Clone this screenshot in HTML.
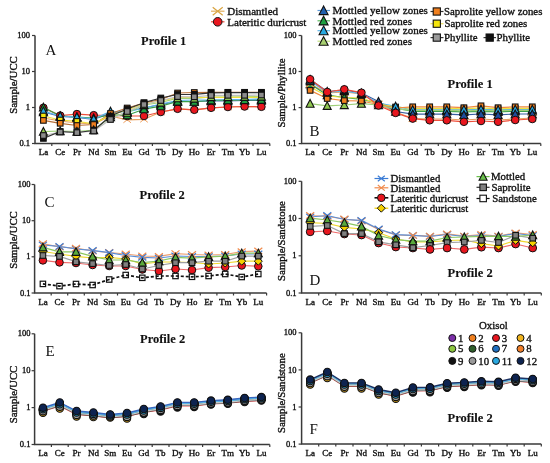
<!DOCTYPE html><html><head><meta charset="utf-8"><style>html,body{margin:0;padding:0;background:#fff;overflow:hidden}svg{display:block;will-change:transform}</style></head><body><svg width="550" height="463" viewBox="0 0 550 463" font-family="'Liberation Serif', serif" fill="#111111" stroke-width="0">
<rect width="550" height="463" fill="#ffffff"/>
<style>text{stroke:#111;stroke-width:0.35px;}</style>
<path d="M35.0,35.5 V143.5 H269.8" fill="none" stroke="#3a3a3a" stroke-width="1.5"/>
<line x1="32.0" y1="35.5" x2="35.0" y2="35.5" stroke="#3a3a3a" stroke-width="1.2"/>
<text x="30.0" y="38.1" text-anchor="end" font-size="8.5">100</text>
<line x1="32.0" y1="71.5" x2="35.0" y2="71.5" stroke="#3a3a3a" stroke-width="1.2"/>
<text x="30.0" y="74.1" text-anchor="end" font-size="8.5">10</text>
<line x1="32.0" y1="107.5" x2="35.0" y2="107.5" stroke="#3a3a3a" stroke-width="1.2"/>
<text x="30.0" y="110.1" text-anchor="end" font-size="8.5">1</text>
<line x1="32.0" y1="143.5" x2="35.0" y2="143.5" stroke="#3a3a3a" stroke-width="1.2"/>
<text x="30.0" y="146.1" text-anchor="end" font-size="8.5">0.1</text>
<line x1="51.8" y1="143.5" x2="51.8" y2="146.0" stroke="#3a3a3a" stroke-width="1.2"/>
<line x1="68.5" y1="143.5" x2="68.5" y2="146.0" stroke="#3a3a3a" stroke-width="1.2"/>
<line x1="85.3" y1="143.5" x2="85.3" y2="146.0" stroke="#3a3a3a" stroke-width="1.2"/>
<line x1="102.1" y1="143.5" x2="102.1" y2="146.0" stroke="#3a3a3a" stroke-width="1.2"/>
<line x1="118.9" y1="143.5" x2="118.9" y2="146.0" stroke="#3a3a3a" stroke-width="1.2"/>
<line x1="135.6" y1="143.5" x2="135.6" y2="146.0" stroke="#3a3a3a" stroke-width="1.2"/>
<line x1="152.4" y1="143.5" x2="152.4" y2="146.0" stroke="#3a3a3a" stroke-width="1.2"/>
<line x1="169.2" y1="143.5" x2="169.2" y2="146.0" stroke="#3a3a3a" stroke-width="1.2"/>
<line x1="185.9" y1="143.5" x2="185.9" y2="146.0" stroke="#3a3a3a" stroke-width="1.2"/>
<line x1="202.7" y1="143.5" x2="202.7" y2="146.0" stroke="#3a3a3a" stroke-width="1.2"/>
<line x1="219.5" y1="143.5" x2="219.5" y2="146.0" stroke="#3a3a3a" stroke-width="1.2"/>
<line x1="236.3" y1="143.5" x2="236.3" y2="146.0" stroke="#3a3a3a" stroke-width="1.2"/>
<line x1="253.0" y1="143.5" x2="253.0" y2="146.0" stroke="#3a3a3a" stroke-width="1.2"/>
<line x1="269.8" y1="143.5" x2="269.8" y2="146.0" stroke="#3a3a3a" stroke-width="1.2"/>
<text x="43.4" y="155.0" text-anchor="middle" font-size="9">La</text>
<text x="60.2" y="155.0" text-anchor="middle" font-size="9">Ce</text>
<text x="76.9" y="155.0" text-anchor="middle" font-size="9">Pr</text>
<text x="93.7" y="155.0" text-anchor="middle" font-size="9">Nd</text>
<text x="110.5" y="155.0" text-anchor="middle" font-size="9">Sm</text>
<text x="127.2" y="155.0" text-anchor="middle" font-size="9">Eu</text>
<text x="144.0" y="155.0" text-anchor="middle" font-size="9">Gd</text>
<text x="160.8" y="155.0" text-anchor="middle" font-size="9">Tb</text>
<text x="177.6" y="155.0" text-anchor="middle" font-size="9">Dy</text>
<text x="194.3" y="155.0" text-anchor="middle" font-size="9">Ho</text>
<text x="211.1" y="155.0" text-anchor="middle" font-size="9">Er</text>
<text x="227.9" y="155.0" text-anchor="middle" font-size="9">Tm</text>
<text x="244.6" y="155.0" text-anchor="middle" font-size="9">Yb</text>
<text x="261.4" y="155.0" text-anchor="middle" font-size="9">Lu</text>
<text transform="translate(17,85) rotate(-90)" text-anchor="middle" font-size="10.8">Sample/UCC</text>
<path d="M43.4,118.0 L60.2,121.0 L76.9,123.0 L93.7,124.0 L110.5,116.0 L127.2,119.8 L144.0,119.3 L160.8,112.0 L177.6,108.8 L194.3,109.8 L211.1,107.8 L227.9,107.0 L244.6,106.5 L261.4,106.8" fill="none" stroke="#e8a060" stroke-width="1.2" stroke-linejoin="round"/>
<path d="M43.4,107.8 L60.2,115.6 L76.9,114.1 L93.7,115.2 L110.5,115.5 L127.2,116.0 L144.0,116.0 L160.8,112.0 L177.6,108.8 L194.3,109.8 L211.1,107.8 L227.9,107.0 L244.6,106.5 L261.4,106.8" fill="none" stroke="#f0503c" stroke-width="1.2" stroke-linejoin="round"/>
<path d="M43.4,112.0 L60.2,116.5 L76.9,117.5 L93.7,119.5 L110.5,113.0 L127.2,111.0 L144.0,108.0 L160.8,104.5 L177.6,101.5 L194.3,101.5 L211.1,101.0 L227.9,101.0 L244.6,100.5 L261.4,100.5" fill="none" stroke="#4f6fb0" stroke-width="1.2" stroke-linejoin="round"/>
<path d="M43.4,107.3 L60.2,116.0 L76.9,117.0 L93.7,118.0 L110.5,115.0 L127.2,115.2 L144.0,109.2 L160.8,106.2 L177.6,101.5 L194.3,101.7 L211.1,100.3 L227.9,100.2 L244.6,100.0 L261.4,99.8" fill="none" stroke="#3aa04a" stroke-width="1.2" stroke-linejoin="round"/>
<path d="M43.4,111.2 L60.2,116.0 L76.9,117.0 L93.7,119.0 L110.5,111.4 L127.2,112.0 L144.0,108.0 L160.8,104.0 L177.6,100.5 L194.3,100.0 L211.1,100.0 L227.9,99.5 L244.6,99.5 L261.4,99.0" fill="none" stroke="#5ab4e6" stroke-width="1.2" stroke-linejoin="round"/>
<path d="M43.4,131.6 L60.2,131.0 L76.9,131.5 L93.7,130.0 L110.5,117.0 L127.2,112.7 L144.0,105.0 L160.8,102.5 L177.6,98.2 L194.3,98.5 L211.1,97.0 L227.9,97.0 L244.6,96.8 L261.4,96.5" fill="none" stroke="#9fd07a" stroke-width="1.2" stroke-linejoin="round"/>
<path d="M43.4,120.4 L60.2,123.3 L76.9,125.5 L93.7,124.5 L110.5,113.5 L127.2,108.0 L144.0,103.0 L160.8,99.5 L177.6,93.0 L194.3,92.5 L211.1,92.3 L227.9,92.3 L244.6,92.3 L261.4,92.3" fill="none" stroke="#b8703a" stroke-width="1.2" stroke-linejoin="round"/>
<path d="M43.4,116.0 L60.2,120.0 L76.9,121.4 L93.7,123.9 L110.5,115.0 L127.2,110.0 L144.0,104.0 L160.8,101.0 L177.6,97.5 L194.3,97.5 L211.1,97.3 L227.9,97.3 L244.6,97.3 L261.4,97.3" fill="none" stroke="#f0e040" stroke-width="1.2" stroke-linejoin="round"/>
<path d="M43.4,135.5 L60.2,132.0 L76.9,132.6 L93.7,131.0 L110.5,119.5 L127.2,111.5 L144.0,104.5 L160.8,100.5 L177.6,96.6 L194.3,96.8 L211.1,95.4 L227.9,95.3 L244.6,95.3 L261.4,95.0" fill="none" stroke="#c0c0c0" stroke-width="1.2" stroke-linejoin="round"/>
<path d="M43.4,138.4 L60.2,131.5 L76.9,132.5 L93.7,130.5 L110.5,116.0 L127.2,109.0 L144.0,102.7 L160.8,98.0 L177.6,94.5 L194.3,94.3 L211.1,92.8 L227.9,92.6 L244.6,92.6 L261.4,92.6" fill="none" stroke="#333333" stroke-width="1.2" stroke-linejoin="round"/>
<path d="M39.6,115.0 L47.2,121.0 M47.2,115.0 L39.6,121.0" stroke="#f0a060" stroke-width="1.0" fill="none"/>
<path d="M43.4,107.9 L47.4,115.6 L39.4,115.6 Z" fill="#1f5fad" stroke="#111" stroke-width="1.1"/>
<circle cx="43.4" cy="107.8" r="3.8" fill="#e8161e" stroke="#111" stroke-width="1"/>
<path d="M43.4,103.2 L47.4,110.9 L39.4,110.9 Z" fill="#1ea040" stroke="#111" stroke-width="1.1"/>
<path d="M43.4,107.1 L47.4,114.8 L39.4,114.8 Z" fill="#27a9e1" stroke="#111" stroke-width="1.1"/>
<rect x="40.6" y="113.2" width="5.6" height="5.6" fill="#f5e50a" stroke="#111" stroke-width="1.1"/>
<rect x="40.6" y="117.6" width="5.6" height="5.6" fill="#f07f1e" stroke="#111" stroke-width="1.1"/>
<path d="M43.4,127.5 L47.4,135.2 L39.4,135.2 Z" fill="#90c850" stroke="#111" stroke-width="1.1"/>
<rect x="40.6" y="135.6" width="5.6" height="5.6" fill="#111111" stroke="#111" stroke-width="1.1"/>
<rect x="40.6" y="132.7" width="5.6" height="5.6" fill="#8c8c8c" stroke="#111" stroke-width="1.1"/>
<path d="M56.4,118.0 L64.0,124.0 M64.0,118.0 L56.4,124.0" stroke="#f0a060" stroke-width="1.0" fill="none"/>
<path d="M60.2,112.4 L64.2,120.1 L56.2,120.1 Z" fill="#1f5fad" stroke="#111" stroke-width="1.1"/>
<circle cx="60.2" cy="115.6" r="3.8" fill="#e8161e" stroke="#111" stroke-width="1"/>
<path d="M60.2,111.9 L64.2,119.6 L56.2,119.6 Z" fill="#1ea040" stroke="#111" stroke-width="1.1"/>
<path d="M60.2,111.9 L64.2,119.6 L56.2,119.6 Z" fill="#27a9e1" stroke="#111" stroke-width="1.1"/>
<rect x="57.4" y="117.2" width="5.6" height="5.6" fill="#f5e50a" stroke="#111" stroke-width="1.1"/>
<rect x="57.4" y="120.5" width="5.6" height="5.6" fill="#f07f1e" stroke="#111" stroke-width="1.1"/>
<path d="M60.2,126.9 L64.2,134.6 L56.2,134.6 Z" fill="#90c850" stroke="#111" stroke-width="1.1"/>
<rect x="57.4" y="128.7" width="5.6" height="5.6" fill="#111111" stroke="#111" stroke-width="1.1"/>
<rect x="57.4" y="129.2" width="5.6" height="5.6" fill="#8c8c8c" stroke="#111" stroke-width="1.1"/>
<path d="M73.1,120.0 L80.7,126.0 M80.7,120.0 L73.1,126.0" stroke="#f0a060" stroke-width="1.0" fill="none"/>
<path d="M76.9,113.4 L80.9,121.1 L72.9,121.1 Z" fill="#1f5fad" stroke="#111" stroke-width="1.1"/>
<circle cx="76.9" cy="114.1" r="3.8" fill="#e8161e" stroke="#111" stroke-width="1"/>
<path d="M76.9,112.9 L80.9,120.6 L72.9,120.6 Z" fill="#1ea040" stroke="#111" stroke-width="1.1"/>
<path d="M76.9,112.9 L80.9,120.6 L72.9,120.6 Z" fill="#27a9e1" stroke="#111" stroke-width="1.1"/>
<rect x="74.1" y="118.6" width="5.6" height="5.6" fill="#f5e50a" stroke="#111" stroke-width="1.1"/>
<rect x="74.1" y="122.7" width="5.6" height="5.6" fill="#f07f1e" stroke="#111" stroke-width="1.1"/>
<path d="M76.9,127.4 L80.9,135.1 L72.9,135.1 Z" fill="#90c850" stroke="#111" stroke-width="1.1"/>
<rect x="74.1" y="129.7" width="5.6" height="5.6" fill="#111111" stroke="#111" stroke-width="1.1"/>
<rect x="74.1" y="129.8" width="5.6" height="5.6" fill="#8c8c8c" stroke="#111" stroke-width="1.1"/>
<path d="M89.9,121.0 L97.5,127.0 M97.5,121.0 L89.9,127.0" stroke="#f0a060" stroke-width="1.0" fill="none"/>
<path d="M93.7,115.4 L97.7,123.1 L89.7,123.1 Z" fill="#1f5fad" stroke="#111" stroke-width="1.1"/>
<circle cx="93.7" cy="115.2" r="3.8" fill="#e8161e" stroke="#111" stroke-width="1"/>
<path d="M93.7,113.9 L97.7,121.6 L89.7,121.6 Z" fill="#1ea040" stroke="#111" stroke-width="1.1"/>
<path d="M93.7,114.9 L97.7,122.6 L89.7,122.6 Z" fill="#27a9e1" stroke="#111" stroke-width="1.1"/>
<rect x="90.9" y="121.1" width="5.6" height="5.6" fill="#f5e50a" stroke="#111" stroke-width="1.1"/>
<rect x="90.9" y="121.7" width="5.6" height="5.6" fill="#f07f1e" stroke="#111" stroke-width="1.1"/>
<path d="M93.7,125.9 L97.7,133.6 L89.7,133.6 Z" fill="#90c850" stroke="#111" stroke-width="1.1"/>
<rect x="90.9" y="127.7" width="5.6" height="5.6" fill="#111111" stroke="#111" stroke-width="1.1"/>
<rect x="90.9" y="128.2" width="5.6" height="5.6" fill="#8c8c8c" stroke="#111" stroke-width="1.1"/>
<path d="M106.7,113.0 L114.3,119.0 M114.3,113.0 L106.7,119.0" stroke="#f0a060" stroke-width="1.0" fill="none"/>
<path d="M110.5,108.9 L114.5,116.6 L106.5,116.6 Z" fill="#1f5fad" stroke="#111" stroke-width="1.1"/>
<circle cx="110.5" cy="115.5" r="3.8" fill="#e8161e" stroke="#111" stroke-width="1"/>
<path d="M110.5,110.9 L114.5,118.6 L106.5,118.6 Z" fill="#1ea040" stroke="#111" stroke-width="1.1"/>
<path d="M110.5,107.3 L114.5,115.0 L106.5,115.0 Z" fill="#27a9e1" stroke="#111" stroke-width="1.1"/>
<rect x="107.7" y="112.2" width="5.6" height="5.6" fill="#f5e50a" stroke="#111" stroke-width="1.1"/>
<rect x="107.7" y="110.7" width="5.6" height="5.6" fill="#f07f1e" stroke="#111" stroke-width="1.1"/>
<path d="M110.5,112.9 L114.5,120.6 L106.5,120.6 Z" fill="#90c850" stroke="#111" stroke-width="1.1"/>
<rect x="107.7" y="113.2" width="5.6" height="5.6" fill="#111111" stroke="#111" stroke-width="1.1"/>
<rect x="107.7" y="116.7" width="5.6" height="5.6" fill="#8c8c8c" stroke="#111" stroke-width="1.1"/>
<path d="M123.4,116.8 L131.0,122.8 M131.0,116.8 L123.4,122.8" stroke="#f0a060" stroke-width="1.0" fill="none"/>
<path d="M127.2,106.9 L131.2,114.6 L123.2,114.6 Z" fill="#1f5fad" stroke="#111" stroke-width="1.1"/>
<path d="M127.2,107.9 L131.2,115.6 L123.2,115.6 Z" fill="#27a9e1" stroke="#111" stroke-width="1.1"/>
<rect x="124.4" y="107.2" width="5.6" height="5.6" fill="#f5e50a" stroke="#111" stroke-width="1.1"/>
<rect x="124.4" y="105.2" width="5.6" height="5.6" fill="#f07f1e" stroke="#111" stroke-width="1.1"/>
<circle cx="127.2" cy="116.0" r="3.8" fill="#e8161e" stroke="#111" stroke-width="1"/>
<path d="M127.2,111.1 L131.2,118.8 L123.2,118.8 Z" fill="#1ea040" stroke="#111" stroke-width="1.1"/>
<path d="M127.2,108.6 L131.2,116.3 L123.2,116.3 Z" fill="#90c850" stroke="#111" stroke-width="1.1"/>
<rect x="124.4" y="106.2" width="5.6" height="5.6" fill="#111111" stroke="#111" stroke-width="1.1"/>
<rect x="124.4" y="108.7" width="5.6" height="5.6" fill="#8c8c8c" stroke="#111" stroke-width="1.1"/>
<path d="M140.2,116.3 L147.8,122.3 M147.8,116.3 L140.2,122.3" stroke="#f0a060" stroke-width="1.0" fill="none"/>
<path d="M144.0,103.9 L148.0,111.6 L140.0,111.6 Z" fill="#1f5fad" stroke="#111" stroke-width="1.1"/>
<path d="M144.0,103.9 L148.0,111.6 L140.0,111.6 Z" fill="#27a9e1" stroke="#111" stroke-width="1.1"/>
<rect x="141.2" y="101.2" width="5.6" height="5.6" fill="#f5e50a" stroke="#111" stroke-width="1.1"/>
<rect x="141.2" y="100.2" width="5.6" height="5.6" fill="#f07f1e" stroke="#111" stroke-width="1.1"/>
<circle cx="144.0" cy="116.0" r="3.8" fill="#e8161e" stroke="#111" stroke-width="1"/>
<path d="M144.0,105.1 L148.0,112.8 L140.0,112.8 Z" fill="#1ea040" stroke="#111" stroke-width="1.1"/>
<path d="M144.0,100.9 L148.0,108.6 L140.0,108.6 Z" fill="#90c850" stroke="#111" stroke-width="1.1"/>
<rect x="141.2" y="99.9" width="5.6" height="5.6" fill="#111111" stroke="#111" stroke-width="1.1"/>
<rect x="141.2" y="101.7" width="5.6" height="5.6" fill="#8c8c8c" stroke="#111" stroke-width="1.1"/>
<path d="M157.0,109.0 L164.6,115.0 M164.6,109.0 L157.0,115.0" stroke="#f0a060" stroke-width="1.0" fill="none"/>
<path d="M160.8,100.4 L164.8,108.1 L156.8,108.1 Z" fill="#1f5fad" stroke="#111" stroke-width="1.1"/>
<path d="M160.8,99.9 L164.8,107.6 L156.8,107.6 Z" fill="#27a9e1" stroke="#111" stroke-width="1.1"/>
<rect x="158.0" y="98.2" width="5.6" height="5.6" fill="#f5e50a" stroke="#111" stroke-width="1.1"/>
<rect x="158.0" y="96.7" width="5.6" height="5.6" fill="#f07f1e" stroke="#111" stroke-width="1.1"/>
<circle cx="160.8" cy="112.0" r="3.8" fill="#e8161e" stroke="#111" stroke-width="1"/>
<path d="M160.8,102.1 L164.8,109.8 L156.8,109.8 Z" fill="#1ea040" stroke="#111" stroke-width="1.1"/>
<path d="M160.8,98.4 L164.8,106.1 L156.8,106.1 Z" fill="#90c850" stroke="#111" stroke-width="1.1"/>
<rect x="158.0" y="95.2" width="5.6" height="5.6" fill="#111111" stroke="#111" stroke-width="1.1"/>
<rect x="158.0" y="97.7" width="5.6" height="5.6" fill="#8c8c8c" stroke="#111" stroke-width="1.1"/>
<path d="M173.8,105.8 L181.4,111.8 M181.4,105.8 L173.8,111.8" stroke="#f0a060" stroke-width="1.0" fill="none"/>
<path d="M177.6,97.4 L181.6,105.1 L173.6,105.1 Z" fill="#1f5fad" stroke="#111" stroke-width="1.1"/>
<path d="M177.6,96.4 L181.6,104.1 L173.6,104.1 Z" fill="#27a9e1" stroke="#111" stroke-width="1.1"/>
<rect x="174.8" y="94.7" width="5.6" height="5.6" fill="#f5e50a" stroke="#111" stroke-width="1.1"/>
<rect x="174.8" y="90.2" width="5.6" height="5.6" fill="#f07f1e" stroke="#111" stroke-width="1.1"/>
<circle cx="177.6" cy="108.8" r="3.8" fill="#e8161e" stroke="#111" stroke-width="1"/>
<path d="M177.6,97.4 L181.6,105.1 L173.6,105.1 Z" fill="#1ea040" stroke="#111" stroke-width="1.1"/>
<path d="M177.6,94.1 L181.6,101.8 L173.6,101.8 Z" fill="#90c850" stroke="#111" stroke-width="1.1"/>
<rect x="174.8" y="91.7" width="5.6" height="5.6" fill="#111111" stroke="#111" stroke-width="1.1"/>
<rect x="174.8" y="93.8" width="5.6" height="5.6" fill="#8c8c8c" stroke="#111" stroke-width="1.1"/>
<path d="M190.5,106.8 L198.1,112.8 M198.1,106.8 L190.5,112.8" stroke="#f0a060" stroke-width="1.0" fill="none"/>
<path d="M194.3,97.4 L198.3,105.1 L190.3,105.1 Z" fill="#1f5fad" stroke="#111" stroke-width="1.1"/>
<path d="M194.3,95.9 L198.3,103.6 L190.3,103.6 Z" fill="#27a9e1" stroke="#111" stroke-width="1.1"/>
<rect x="191.5" y="94.7" width="5.6" height="5.6" fill="#f5e50a" stroke="#111" stroke-width="1.1"/>
<rect x="191.5" y="89.7" width="5.6" height="5.6" fill="#f07f1e" stroke="#111" stroke-width="1.1"/>
<circle cx="194.3" cy="109.8" r="3.8" fill="#e8161e" stroke="#111" stroke-width="1"/>
<path d="M194.3,97.6 L198.3,105.3 L190.3,105.3 Z" fill="#1ea040" stroke="#111" stroke-width="1.1"/>
<path d="M194.3,94.4 L198.3,102.1 L190.3,102.1 Z" fill="#90c850" stroke="#111" stroke-width="1.1"/>
<rect x="191.5" y="91.5" width="5.6" height="5.6" fill="#111111" stroke="#111" stroke-width="1.1"/>
<rect x="191.5" y="94.0" width="5.6" height="5.6" fill="#8c8c8c" stroke="#111" stroke-width="1.1"/>
<path d="M207.3,104.8 L214.9,110.8 M214.9,104.8 L207.3,110.8" stroke="#f0a060" stroke-width="1.0" fill="none"/>
<path d="M211.1,96.9 L215.1,104.6 L207.1,104.6 Z" fill="#1f5fad" stroke="#111" stroke-width="1.1"/>
<path d="M211.1,95.9 L215.1,103.6 L207.1,103.6 Z" fill="#27a9e1" stroke="#111" stroke-width="1.1"/>
<rect x="208.3" y="94.5" width="5.6" height="5.6" fill="#f5e50a" stroke="#111" stroke-width="1.1"/>
<rect x="208.3" y="89.5" width="5.6" height="5.6" fill="#f07f1e" stroke="#111" stroke-width="1.1"/>
<circle cx="211.1" cy="107.8" r="3.8" fill="#e8161e" stroke="#111" stroke-width="1"/>
<path d="M211.1,96.2 L215.1,103.9 L207.1,103.9 Z" fill="#1ea040" stroke="#111" stroke-width="1.1"/>
<path d="M211.1,92.9 L215.1,100.6 L207.1,100.6 Z" fill="#90c850" stroke="#111" stroke-width="1.1"/>
<rect x="208.3" y="90.0" width="5.6" height="5.6" fill="#111111" stroke="#111" stroke-width="1.1"/>
<rect x="208.3" y="92.6" width="5.6" height="5.6" fill="#8c8c8c" stroke="#111" stroke-width="1.1"/>
<path d="M224.1,104.0 L231.7,110.0 M231.7,104.0 L224.1,110.0" stroke="#f0a060" stroke-width="1.0" fill="none"/>
<path d="M227.9,96.9 L231.9,104.6 L223.9,104.6 Z" fill="#1f5fad" stroke="#111" stroke-width="1.1"/>
<path d="M227.9,95.4 L231.9,103.1 L223.9,103.1 Z" fill="#27a9e1" stroke="#111" stroke-width="1.1"/>
<rect x="225.1" y="94.5" width="5.6" height="5.6" fill="#f5e50a" stroke="#111" stroke-width="1.1"/>
<rect x="225.1" y="89.5" width="5.6" height="5.6" fill="#f07f1e" stroke="#111" stroke-width="1.1"/>
<circle cx="227.9" cy="107.0" r="3.8" fill="#e8161e" stroke="#111" stroke-width="1"/>
<path d="M227.9,96.1 L231.9,103.8 L223.9,103.8 Z" fill="#1ea040" stroke="#111" stroke-width="1.1"/>
<path d="M227.9,92.9 L231.9,100.6 L223.9,100.6 Z" fill="#90c850" stroke="#111" stroke-width="1.1"/>
<rect x="225.1" y="89.8" width="5.6" height="5.6" fill="#111111" stroke="#111" stroke-width="1.1"/>
<rect x="225.1" y="92.5" width="5.6" height="5.6" fill="#8c8c8c" stroke="#111" stroke-width="1.1"/>
<path d="M240.8,103.5 L248.4,109.5 M248.4,103.5 L240.8,109.5" stroke="#f0a060" stroke-width="1.0" fill="none"/>
<path d="M244.6,96.4 L248.6,104.1 L240.6,104.1 Z" fill="#1f5fad" stroke="#111" stroke-width="1.1"/>
<path d="M244.6,95.4 L248.6,103.1 L240.6,103.1 Z" fill="#27a9e1" stroke="#111" stroke-width="1.1"/>
<rect x="241.8" y="94.5" width="5.6" height="5.6" fill="#f5e50a" stroke="#111" stroke-width="1.1"/>
<rect x="241.8" y="89.5" width="5.6" height="5.6" fill="#f07f1e" stroke="#111" stroke-width="1.1"/>
<circle cx="244.6" cy="106.5" r="3.8" fill="#e8161e" stroke="#111" stroke-width="1"/>
<path d="M244.6,95.9 L248.6,103.6 L240.6,103.6 Z" fill="#1ea040" stroke="#111" stroke-width="1.1"/>
<path d="M244.6,92.7 L248.6,100.4 L240.6,100.4 Z" fill="#90c850" stroke="#111" stroke-width="1.1"/>
<rect x="241.8" y="89.8" width="5.6" height="5.6" fill="#111111" stroke="#111" stroke-width="1.1"/>
<rect x="241.8" y="92.5" width="5.6" height="5.6" fill="#8c8c8c" stroke="#111" stroke-width="1.1"/>
<path d="M257.6,103.8 L265.2,109.8 M265.2,103.8 L257.6,109.8" stroke="#f0a060" stroke-width="1.0" fill="none"/>
<path d="M261.4,96.4 L265.4,104.1 L257.4,104.1 Z" fill="#1f5fad" stroke="#111" stroke-width="1.1"/>
<path d="M261.4,94.9 L265.4,102.6 L257.4,102.6 Z" fill="#27a9e1" stroke="#111" stroke-width="1.1"/>
<rect x="258.6" y="94.5" width="5.6" height="5.6" fill="#f5e50a" stroke="#111" stroke-width="1.1"/>
<rect x="258.6" y="89.5" width="5.6" height="5.6" fill="#f07f1e" stroke="#111" stroke-width="1.1"/>
<circle cx="261.4" cy="106.8" r="3.8" fill="#e8161e" stroke="#111" stroke-width="1"/>
<path d="M261.4,95.7 L265.4,103.4 L257.4,103.4 Z" fill="#1ea040" stroke="#111" stroke-width="1.1"/>
<path d="M261.4,92.4 L265.4,100.1 L257.4,100.1 Z" fill="#90c850" stroke="#111" stroke-width="1.1"/>
<rect x="258.6" y="89.8" width="5.6" height="5.6" fill="#111111" stroke="#111" stroke-width="1.1"/>
<rect x="258.6" y="92.2" width="5.6" height="5.6" fill="#8c8c8c" stroke="#111" stroke-width="1.1"/>
<text x="45.5" y="55" font-size="15" style="stroke:none">A</text>
<text x="141" y="45.3" font-size="12.5" font-weight="bold" style="stroke-width:0.1px">Profile 1</text>
<path d="M301.6,35.5 V143.6 H540.8" fill="none" stroke="#3a3a3a" stroke-width="1.5"/>
<line x1="298.6" y1="35.5" x2="301.6" y2="35.5" stroke="#3a3a3a" stroke-width="1.2"/>
<text x="296.6" y="38.1" text-anchor="end" font-size="8.5">100</text>
<line x1="298.6" y1="71.5" x2="301.6" y2="71.5" stroke="#3a3a3a" stroke-width="1.2"/>
<text x="296.6" y="74.1" text-anchor="end" font-size="8.5">10</text>
<line x1="298.6" y1="107.6" x2="301.6" y2="107.6" stroke="#3a3a3a" stroke-width="1.2"/>
<text x="296.6" y="110.2" text-anchor="end" font-size="8.5">1</text>
<line x1="298.6" y1="143.6" x2="301.6" y2="143.6" stroke="#3a3a3a" stroke-width="1.2"/>
<text x="296.6" y="146.2" text-anchor="end" font-size="8.5">0.1</text>
<line x1="318.7" y1="143.6" x2="318.7" y2="146.1" stroke="#3a3a3a" stroke-width="1.2"/>
<line x1="335.8" y1="143.6" x2="335.8" y2="146.1" stroke="#3a3a3a" stroke-width="1.2"/>
<line x1="352.9" y1="143.6" x2="352.9" y2="146.1" stroke="#3a3a3a" stroke-width="1.2"/>
<line x1="369.9" y1="143.6" x2="369.9" y2="146.1" stroke="#3a3a3a" stroke-width="1.2"/>
<line x1="387.0" y1="143.6" x2="387.0" y2="146.1" stroke="#3a3a3a" stroke-width="1.2"/>
<line x1="404.1" y1="143.6" x2="404.1" y2="146.1" stroke="#3a3a3a" stroke-width="1.2"/>
<line x1="421.2" y1="143.6" x2="421.2" y2="146.1" stroke="#3a3a3a" stroke-width="1.2"/>
<line x1="438.3" y1="143.6" x2="438.3" y2="146.1" stroke="#3a3a3a" stroke-width="1.2"/>
<line x1="455.4" y1="143.6" x2="455.4" y2="146.1" stroke="#3a3a3a" stroke-width="1.2"/>
<line x1="472.5" y1="143.6" x2="472.5" y2="146.1" stroke="#3a3a3a" stroke-width="1.2"/>
<line x1="489.5" y1="143.6" x2="489.5" y2="146.1" stroke="#3a3a3a" stroke-width="1.2"/>
<line x1="506.6" y1="143.6" x2="506.6" y2="146.1" stroke="#3a3a3a" stroke-width="1.2"/>
<line x1="523.7" y1="143.6" x2="523.7" y2="146.1" stroke="#3a3a3a" stroke-width="1.2"/>
<line x1="540.8" y1="143.6" x2="540.8" y2="146.1" stroke="#3a3a3a" stroke-width="1.2"/>
<text x="310.1" y="155.1" text-anchor="middle" font-size="9">La</text>
<text x="327.2" y="155.1" text-anchor="middle" font-size="9">Ce</text>
<text x="344.3" y="155.1" text-anchor="middle" font-size="9">Pr</text>
<text x="361.4" y="155.1" text-anchor="middle" font-size="9">Nd</text>
<text x="378.5" y="155.1" text-anchor="middle" font-size="9">Sm</text>
<text x="395.6" y="155.1" text-anchor="middle" font-size="9">Eu</text>
<text x="412.7" y="155.1" text-anchor="middle" font-size="9">Gd</text>
<text x="429.7" y="155.1" text-anchor="middle" font-size="9">Tb</text>
<text x="446.8" y="155.1" text-anchor="middle" font-size="9">Dy</text>
<text x="463.9" y="155.1" text-anchor="middle" font-size="9">Ho</text>
<text x="481.0" y="155.1" text-anchor="middle" font-size="9">Er</text>
<text x="498.1" y="155.1" text-anchor="middle" font-size="9">Tm</text>
<text x="515.2" y="155.1" text-anchor="middle" font-size="9">Yb</text>
<text x="532.3" y="155.1" text-anchor="middle" font-size="9">Lu</text>
<text transform="translate(284.7,93) rotate(-90)" text-anchor="middle" font-size="10.8">Sample/Phyllite</text>
<path d="M310.1,84.0 L327.2,93.0 L344.3,92.0 L361.4,94.0 L378.5,104.0 L395.6,112.0 L412.7,118.6 L429.7,119.0 L446.8,119.0 L463.9,120.0 L481.0,119.0 L498.1,120.0 L515.2,119.0 L532.3,118.0" fill="none" stroke="#e8a060" stroke-width="1.2" stroke-linejoin="round"/>
<path d="M310.1,79.5 L327.2,91.5 L344.3,90.0 L361.4,93.0 L378.5,101.5 L395.6,111.5 L412.7,114.2 L429.7,114.2 L446.8,114.2 L463.9,114.9 L481.0,114.0 L498.1,114.9 L515.2,114.0 L532.3,114.0" fill="none" stroke="#3a5fa0" stroke-width="1.2" stroke-linejoin="round"/>
<path d="M310.1,84.0 L327.2,95.0 L344.3,97.5 L361.4,99.3 L378.5,103.0 L395.6,108.0 L412.7,111.3 L429.7,111.3 L446.8,111.3 L463.9,111.8 L481.0,111.3 L498.1,111.8 L515.2,111.3 L532.3,111.3" fill="none" stroke="#3aa04a" stroke-width="1.2" stroke-linejoin="round"/>
<path d="M310.1,81.0 L327.2,92.5 L344.3,91.0 L361.4,94.0 L378.5,103.0 L395.6,106.4 L412.7,109.8 L429.7,109.8 L446.8,109.8 L463.9,109.5 L481.0,109.3 L498.1,109.8 L515.2,109.3 L532.3,109.3" fill="none" stroke="#5ab4e6" stroke-width="1.2" stroke-linejoin="round"/>
<path d="M310.1,87.0 L327.2,96.0 L344.3,97.5 L361.4,98.0 L378.5,104.0 L395.6,107.0 L412.7,108.3 L429.7,108.3 L446.8,108.3 L463.9,108.8 L481.0,107.8 L498.1,108.8 L515.2,108.3 L532.3,108.3" fill="none" stroke="#f0e040" stroke-width="1.2" stroke-linejoin="round"/>
<path d="M310.1,90.4 L327.2,98.5 L344.3,100.6 L361.4,101.0 L378.5,104.5 L395.6,108.0 L412.7,106.8 L429.7,106.8 L446.8,106.8 L463.9,107.7 L481.0,105.8 L498.1,107.7 L515.2,106.8 L532.3,106.8" fill="none" stroke="#f08a40" stroke-width="1.2" stroke-linejoin="round"/>
<path d="M310.1,103.6 L327.2,105.8 L344.3,105.0 L361.4,103.6 L378.5,105.0 L395.6,109.0 L412.7,110.3 L429.7,110.3 L446.8,110.3 L463.9,110.8 L481.0,110.3 L498.1,110.8 L515.2,110.3 L532.3,110.3" fill="none" stroke="#9fd07a" stroke-width="1.2" stroke-linejoin="round"/>
<path d="M310.1,79.2 L327.2,92.0 L344.3,89.3 L361.4,92.7 L378.5,105.5 L395.6,112.9 L412.7,118.6 L429.7,120.3 L446.8,120.3 L463.9,121.8 L481.0,121.0 L498.1,121.8 L515.2,120.0 L532.3,119.0" fill="none" stroke="#f0503c" stroke-width="1.2" stroke-linejoin="round"/>
<rect x="307.3" y="84.2" width="5.6" height="5.6" fill="#f5e50a" stroke="#111" stroke-width="1.1"/>
<rect x="324.4" y="93.2" width="5.6" height="5.6" fill="#f5e50a" stroke="#111" stroke-width="1.1"/>
<rect x="341.5" y="94.7" width="5.6" height="5.6" fill="#f5e50a" stroke="#111" stroke-width="1.1"/>
<rect x="358.6" y="95.2" width="5.6" height="5.6" fill="#f5e50a" stroke="#111" stroke-width="1.1"/>
<rect x="375.7" y="101.2" width="5.6" height="5.6" fill="#f5e50a" stroke="#111" stroke-width="1.1"/>
<rect x="392.8" y="104.2" width="5.6" height="5.6" fill="#f5e50a" stroke="#111" stroke-width="1.1"/>
<rect x="409.9" y="105.5" width="5.6" height="5.6" fill="#f5e50a" stroke="#111" stroke-width="1.1"/>
<rect x="426.9" y="105.5" width="5.6" height="5.6" fill="#f5e50a" stroke="#111" stroke-width="1.1"/>
<rect x="444.0" y="105.5" width="5.6" height="5.6" fill="#f5e50a" stroke="#111" stroke-width="1.1"/>
<rect x="461.1" y="106.0" width="5.6" height="5.6" fill="#f5e50a" stroke="#111" stroke-width="1.1"/>
<rect x="478.2" y="105.0" width="5.6" height="5.6" fill="#f5e50a" stroke="#111" stroke-width="1.1"/>
<rect x="495.3" y="106.0" width="5.6" height="5.6" fill="#f5e50a" stroke="#111" stroke-width="1.1"/>
<rect x="512.4" y="105.5" width="5.6" height="5.6" fill="#f5e50a" stroke="#111" stroke-width="1.1"/>
<rect x="529.5" y="105.5" width="5.6" height="5.6" fill="#f5e50a" stroke="#111" stroke-width="1.1"/>
<path d="M310.1,99.5 L314.1,107.2 L306.1,107.2 Z" fill="#90c850" stroke="#111" stroke-width="1.1"/>
<path d="M327.2,101.7 L331.2,109.4 L323.2,109.4 Z" fill="#90c850" stroke="#111" stroke-width="1.1"/>
<path d="M344.3,100.9 L348.3,108.6 L340.3,108.6 Z" fill="#90c850" stroke="#111" stroke-width="1.1"/>
<path d="M361.4,99.5 L365.4,107.2 L357.4,107.2 Z" fill="#90c850" stroke="#111" stroke-width="1.1"/>
<path d="M378.5,100.9 L382.5,108.6 L374.5,108.6 Z" fill="#90c850" stroke="#111" stroke-width="1.1"/>
<path d="M395.6,104.9 L399.6,112.6 L391.6,112.6 Z" fill="#90c850" stroke="#111" stroke-width="1.1"/>
<path d="M412.7,106.2 L416.7,113.9 L408.7,113.9 Z" fill="#90c850" stroke="#111" stroke-width="1.1"/>
<path d="M429.7,106.2 L433.7,113.9 L425.7,113.9 Z" fill="#90c850" stroke="#111" stroke-width="1.1"/>
<path d="M446.8,106.2 L450.8,113.9 L442.8,113.9 Z" fill="#90c850" stroke="#111" stroke-width="1.1"/>
<path d="M463.9,106.7 L467.9,114.4 L459.9,114.4 Z" fill="#90c850" stroke="#111" stroke-width="1.1"/>
<path d="M481.0,106.2 L485.0,113.9 L477.0,113.9 Z" fill="#90c850" stroke="#111" stroke-width="1.1"/>
<path d="M498.1,106.7 L502.1,114.4 L494.1,114.4 Z" fill="#90c850" stroke="#111" stroke-width="1.1"/>
<path d="M515.2,106.2 L519.2,113.9 L511.2,113.9 Z" fill="#90c850" stroke="#111" stroke-width="1.1"/>
<path d="M532.3,106.2 L536.3,113.9 L528.3,113.9 Z" fill="#90c850" stroke="#111" stroke-width="1.1"/>
<path d="M310.1,79.9 L314.1,87.6 L306.1,87.6 Z" fill="#1ea040" stroke="#111" stroke-width="1.1"/>
<path d="M327.2,90.9 L331.2,98.6 L323.2,98.6 Z" fill="#1ea040" stroke="#111" stroke-width="1.1"/>
<path d="M344.3,93.4 L348.3,101.1 L340.3,101.1 Z" fill="#1ea040" stroke="#111" stroke-width="1.1"/>
<path d="M361.4,95.2 L365.4,102.9 L357.4,102.9 Z" fill="#1ea040" stroke="#111" stroke-width="1.1"/>
<path d="M378.5,98.9 L382.5,106.6 L374.5,106.6 Z" fill="#1ea040" stroke="#111" stroke-width="1.1"/>
<path d="M395.6,103.9 L399.6,111.6 L391.6,111.6 Z" fill="#1ea040" stroke="#111" stroke-width="1.1"/>
<path d="M412.7,107.2 L416.7,114.9 L408.7,114.9 Z" fill="#1ea040" stroke="#111" stroke-width="1.1"/>
<path d="M429.7,107.2 L433.7,114.9 L425.7,114.9 Z" fill="#1ea040" stroke="#111" stroke-width="1.1"/>
<path d="M446.8,107.2 L450.8,114.9 L442.8,114.9 Z" fill="#1ea040" stroke="#111" stroke-width="1.1"/>
<path d="M463.9,107.7 L467.9,115.4 L459.9,115.4 Z" fill="#1ea040" stroke="#111" stroke-width="1.1"/>
<path d="M481.0,107.2 L485.0,114.9 L477.0,114.9 Z" fill="#1ea040" stroke="#111" stroke-width="1.1"/>
<path d="M498.1,107.7 L502.1,115.4 L494.1,115.4 Z" fill="#1ea040" stroke="#111" stroke-width="1.1"/>
<path d="M515.2,107.2 L519.2,114.9 L511.2,114.9 Z" fill="#1ea040" stroke="#111" stroke-width="1.1"/>
<path d="M532.3,107.2 L536.3,114.9 L528.3,114.9 Z" fill="#1ea040" stroke="#111" stroke-width="1.1"/>
<path d="M306.1,80.8 L314.1,87.2 M314.1,80.8 L306.1,87.2" stroke="#f0a050" stroke-width="1.2" fill="none"/>
<path d="M323.2,89.8 L331.2,96.2 M331.2,89.8 L323.2,96.2" stroke="#f0a050" stroke-width="1.2" fill="none"/>
<path d="M340.3,88.8 L348.3,95.2 M348.3,88.8 L340.3,95.2" stroke="#f0a050" stroke-width="1.2" fill="none"/>
<path d="M357.4,90.8 L365.4,97.2 M365.4,90.8 L357.4,97.2" stroke="#f0a050" stroke-width="1.2" fill="none"/>
<path d="M374.5,100.8 L382.5,107.2 M382.5,100.8 L374.5,107.2" stroke="#f0a050" stroke-width="1.2" fill="none"/>
<path d="M391.6,108.8 L399.6,115.2 M399.6,108.8 L391.6,115.2" stroke="#f0a050" stroke-width="1.2" fill="none"/>
<path d="M408.7,115.4 L416.7,121.8 M416.7,115.4 L408.7,121.8" stroke="#f0a050" stroke-width="1.2" fill="none"/>
<path d="M425.7,115.8 L433.7,122.2 M433.7,115.8 L425.7,122.2" stroke="#f0a050" stroke-width="1.2" fill="none"/>
<path d="M442.8,115.8 L450.8,122.2 M450.8,115.8 L442.8,122.2" stroke="#f0a050" stroke-width="1.2" fill="none"/>
<path d="M459.9,116.8 L467.9,123.2 M467.9,116.8 L459.9,123.2" stroke="#f0a050" stroke-width="1.2" fill="none"/>
<path d="M477.0,115.8 L485.0,122.2 M485.0,115.8 L477.0,122.2" stroke="#f0a050" stroke-width="1.2" fill="none"/>
<path d="M494.1,116.8 L502.1,123.2 M502.1,116.8 L494.1,123.2" stroke="#f0a050" stroke-width="1.2" fill="none"/>
<path d="M511.2,115.8 L519.2,122.2 M519.2,115.8 L511.2,122.2" stroke="#f0a050" stroke-width="1.2" fill="none"/>
<path d="M528.3,114.8 L536.3,121.2 M536.3,114.8 L528.3,121.2" stroke="#f0a050" stroke-width="1.2" fill="none"/>
<rect x="307.3" y="87.6" width="5.6" height="5.6" fill="#f07f1e" stroke="#111" stroke-width="1.1"/>
<rect x="324.4" y="95.7" width="5.6" height="5.6" fill="#f07f1e" stroke="#111" stroke-width="1.1"/>
<rect x="341.5" y="97.8" width="5.6" height="5.6" fill="#f07f1e" stroke="#111" stroke-width="1.1"/>
<rect x="358.6" y="98.2" width="5.6" height="5.6" fill="#f07f1e" stroke="#111" stroke-width="1.1"/>
<rect x="375.7" y="101.7" width="5.6" height="5.6" fill="#f07f1e" stroke="#111" stroke-width="1.1"/>
<rect x="392.8" y="105.2" width="5.6" height="5.6" fill="#f07f1e" stroke="#111" stroke-width="1.1"/>
<rect x="409.9" y="104.0" width="5.6" height="5.6" fill="#f07f1e" stroke="#111" stroke-width="1.1"/>
<rect x="426.9" y="104.0" width="5.6" height="5.6" fill="#f07f1e" stroke="#111" stroke-width="1.1"/>
<rect x="444.0" y="104.0" width="5.6" height="5.6" fill="#f07f1e" stroke="#111" stroke-width="1.1"/>
<rect x="461.1" y="104.9" width="5.6" height="5.6" fill="#f07f1e" stroke="#111" stroke-width="1.1"/>
<rect x="478.2" y="103.0" width="5.6" height="5.6" fill="#f07f1e" stroke="#111" stroke-width="1.1"/>
<rect x="495.3" y="104.9" width="5.6" height="5.6" fill="#f07f1e" stroke="#111" stroke-width="1.1"/>
<rect x="512.4" y="104.0" width="5.6" height="5.6" fill="#f07f1e" stroke="#111" stroke-width="1.1"/>
<rect x="529.5" y="104.0" width="5.6" height="5.6" fill="#f07f1e" stroke="#111" stroke-width="1.1"/>
<path d="M310.1,76.9 L314.1,84.6 L306.1,84.6 Z" fill="#27a9e1" stroke="#111" stroke-width="1.1"/>
<path d="M327.2,88.4 L331.2,96.1 L323.2,96.1 Z" fill="#27a9e1" stroke="#111" stroke-width="1.1"/>
<path d="M344.3,86.9 L348.3,94.6 L340.3,94.6 Z" fill="#27a9e1" stroke="#111" stroke-width="1.1"/>
<path d="M361.4,89.9 L365.4,97.6 L357.4,97.6 Z" fill="#27a9e1" stroke="#111" stroke-width="1.1"/>
<path d="M378.5,98.9 L382.5,106.6 L374.5,106.6 Z" fill="#27a9e1" stroke="#111" stroke-width="1.1"/>
<path d="M395.6,102.3 L399.6,110.0 L391.6,110.0 Z" fill="#27a9e1" stroke="#111" stroke-width="1.1"/>
<path d="M412.7,105.7 L416.7,113.4 L408.7,113.4 Z" fill="#27a9e1" stroke="#111" stroke-width="1.1"/>
<path d="M429.7,105.7 L433.7,113.4 L425.7,113.4 Z" fill="#27a9e1" stroke="#111" stroke-width="1.1"/>
<path d="M446.8,105.7 L450.8,113.4 L442.8,113.4 Z" fill="#27a9e1" stroke="#111" stroke-width="1.1"/>
<path d="M463.9,105.4 L467.9,113.1 L459.9,113.1 Z" fill="#27a9e1" stroke="#111" stroke-width="1.1"/>
<path d="M481.0,105.2 L485.0,112.9 L477.0,112.9 Z" fill="#27a9e1" stroke="#111" stroke-width="1.1"/>
<path d="M498.1,105.7 L502.1,113.4 L494.1,113.4 Z" fill="#27a9e1" stroke="#111" stroke-width="1.1"/>
<path d="M515.2,105.2 L519.2,112.9 L511.2,112.9 Z" fill="#27a9e1" stroke="#111" stroke-width="1.1"/>
<path d="M532.3,105.2 L536.3,112.9 L528.3,112.9 Z" fill="#27a9e1" stroke="#111" stroke-width="1.1"/>
<path d="M310.1,75.4 L314.1,83.1 L306.1,83.1 Z" fill="#1f4f9d" stroke="#111" stroke-width="1.1"/>
<path d="M327.2,87.4 L331.2,95.1 L323.2,95.1 Z" fill="#1f4f9d" stroke="#111" stroke-width="1.1"/>
<path d="M344.3,85.9 L348.3,93.6 L340.3,93.6 Z" fill="#1f4f9d" stroke="#111" stroke-width="1.1"/>
<path d="M361.4,88.9 L365.4,96.6 L357.4,96.6 Z" fill="#1f4f9d" stroke="#111" stroke-width="1.1"/>
<path d="M378.5,97.4 L382.5,105.1 L374.5,105.1 Z" fill="#1f4f9d" stroke="#111" stroke-width="1.1"/>
<path d="M395.6,107.4 L399.6,115.1 L391.6,115.1 Z" fill="#1f4f9d" stroke="#111" stroke-width="1.1"/>
<path d="M412.7,110.1 L416.7,117.8 L408.7,117.8 Z" fill="#1f4f9d" stroke="#111" stroke-width="1.1"/>
<path d="M429.7,110.1 L433.7,117.8 L425.7,117.8 Z" fill="#1f4f9d" stroke="#111" stroke-width="1.1"/>
<path d="M446.8,110.1 L450.8,117.8 L442.8,117.8 Z" fill="#1f4f9d" stroke="#111" stroke-width="1.1"/>
<path d="M463.9,110.8 L467.9,118.5 L459.9,118.5 Z" fill="#1f4f9d" stroke="#111" stroke-width="1.1"/>
<path d="M481.0,109.9 L485.0,117.6 L477.0,117.6 Z" fill="#1f4f9d" stroke="#111" stroke-width="1.1"/>
<path d="M498.1,110.8 L502.1,118.5 L494.1,118.5 Z" fill="#1f4f9d" stroke="#111" stroke-width="1.1"/>
<path d="M515.2,109.9 L519.2,117.6 L511.2,117.6 Z" fill="#1f4f9d" stroke="#111" stroke-width="1.1"/>
<path d="M532.3,109.9 L536.3,117.6 L528.3,117.6 Z" fill="#1f4f9d" stroke="#111" stroke-width="1.1"/>
<circle cx="310.1" cy="79.2" r="3.8" fill="#e8161e" stroke="#111" stroke-width="1"/>
<circle cx="327.2" cy="92.0" r="3.8" fill="#e8161e" stroke="#111" stroke-width="1"/>
<circle cx="344.3" cy="89.3" r="3.8" fill="#e8161e" stroke="#111" stroke-width="1"/>
<circle cx="361.4" cy="92.7" r="3.8" fill="#e8161e" stroke="#111" stroke-width="1"/>
<circle cx="378.5" cy="105.5" r="3.8" fill="#e8161e" stroke="#111" stroke-width="1"/>
<circle cx="395.6" cy="112.9" r="3.8" fill="#e8161e" stroke="#111" stroke-width="1"/>
<circle cx="412.7" cy="118.6" r="3.8" fill="#e8161e" stroke="#111" stroke-width="1"/>
<circle cx="429.7" cy="120.3" r="3.8" fill="#e8161e" stroke="#111" stroke-width="1"/>
<circle cx="446.8" cy="120.3" r="3.8" fill="#e8161e" stroke="#111" stroke-width="1"/>
<circle cx="463.9" cy="121.8" r="3.8" fill="#e8161e" stroke="#111" stroke-width="1"/>
<circle cx="481.0" cy="121.0" r="3.8" fill="#e8161e" stroke="#111" stroke-width="1"/>
<circle cx="498.1" cy="121.8" r="3.8" fill="#e8161e" stroke="#111" stroke-width="1"/>
<circle cx="515.2" cy="120.0" r="3.8" fill="#e8161e" stroke="#111" stroke-width="1"/>
<circle cx="532.3" cy="119.0" r="3.8" fill="#e8161e" stroke="#111" stroke-width="1"/>
<text x="309.5" y="136" font-size="15" style="stroke:none">B</text>
<text x="447.5" y="88.2" font-size="12.5" font-weight="bold" style="stroke-width:0.1px">Profile 1</text>
<path d="M34.6,184.5 V293.0 H266.6" fill="none" stroke="#3a3a3a" stroke-width="1.5"/>
<line x1="31.6" y1="184.5" x2="34.6" y2="184.5" stroke="#3a3a3a" stroke-width="1.2"/>
<text x="30.6" y="187.1" text-anchor="end" font-size="8.5">100</text>
<line x1="31.6" y1="220.7" x2="34.6" y2="220.7" stroke="#3a3a3a" stroke-width="1.2"/>
<text x="30.6" y="223.3" text-anchor="end" font-size="8.5">10</text>
<line x1="31.6" y1="256.8" x2="34.6" y2="256.8" stroke="#3a3a3a" stroke-width="1.2"/>
<text x="30.6" y="259.4" text-anchor="end" font-size="8.5">1</text>
<line x1="31.6" y1="293.0" x2="34.6" y2="293.0" stroke="#3a3a3a" stroke-width="1.2"/>
<text x="30.6" y="295.6" text-anchor="end" font-size="8.5">0.1</text>
<line x1="51.2" y1="293.0" x2="51.2" y2="295.5" stroke="#3a3a3a" stroke-width="1.2"/>
<line x1="67.7" y1="293.0" x2="67.7" y2="295.5" stroke="#3a3a3a" stroke-width="1.2"/>
<line x1="84.3" y1="293.0" x2="84.3" y2="295.5" stroke="#3a3a3a" stroke-width="1.2"/>
<line x1="100.9" y1="293.0" x2="100.9" y2="295.5" stroke="#3a3a3a" stroke-width="1.2"/>
<line x1="117.5" y1="293.0" x2="117.5" y2="295.5" stroke="#3a3a3a" stroke-width="1.2"/>
<line x1="134.0" y1="293.0" x2="134.0" y2="295.5" stroke="#3a3a3a" stroke-width="1.2"/>
<line x1="150.6" y1="293.0" x2="150.6" y2="295.5" stroke="#3a3a3a" stroke-width="1.2"/>
<line x1="167.2" y1="293.0" x2="167.2" y2="295.5" stroke="#3a3a3a" stroke-width="1.2"/>
<line x1="183.7" y1="293.0" x2="183.7" y2="295.5" stroke="#3a3a3a" stroke-width="1.2"/>
<line x1="200.3" y1="293.0" x2="200.3" y2="295.5" stroke="#3a3a3a" stroke-width="1.2"/>
<line x1="216.9" y1="293.0" x2="216.9" y2="295.5" stroke="#3a3a3a" stroke-width="1.2"/>
<line x1="233.5" y1="293.0" x2="233.5" y2="295.5" stroke="#3a3a3a" stroke-width="1.2"/>
<line x1="250.0" y1="293.0" x2="250.0" y2="295.5" stroke="#3a3a3a" stroke-width="1.2"/>
<line x1="266.6" y1="293.0" x2="266.6" y2="295.5" stroke="#3a3a3a" stroke-width="1.2"/>
<text x="42.9" y="304.5" text-anchor="middle" font-size="9">La</text>
<text x="59.5" y="304.5" text-anchor="middle" font-size="9">Ce</text>
<text x="76.0" y="304.5" text-anchor="middle" font-size="9">Pr</text>
<text x="92.6" y="304.5" text-anchor="middle" font-size="9">Nd</text>
<text x="109.2" y="304.5" text-anchor="middle" font-size="9">Sm</text>
<text x="125.7" y="304.5" text-anchor="middle" font-size="9">Eu</text>
<text x="142.3" y="304.5" text-anchor="middle" font-size="9">Gd</text>
<text x="158.9" y="304.5" text-anchor="middle" font-size="9">Tb</text>
<text x="175.5" y="304.5" text-anchor="middle" font-size="9">Dy</text>
<text x="192.0" y="304.5" text-anchor="middle" font-size="9">Ho</text>
<text x="208.6" y="304.5" text-anchor="middle" font-size="9">Er</text>
<text x="225.2" y="304.5" text-anchor="middle" font-size="9">Tm</text>
<text x="241.7" y="304.5" text-anchor="middle" font-size="9">Yb</text>
<text x="258.3" y="304.5" text-anchor="middle" font-size="9">Lu</text>
<text transform="translate(17,240) rotate(-90)" text-anchor="middle" font-size="10.8">Sample/UCC</text>
<path d="M42.9,283.9 L59.5,286.1 L76.0,284.0 L92.6,285.0 L109.2,279.5 L125.7,275.0 L142.3,277.8 L158.9,276.0 L175.5,276.0 L192.0,276.8 L208.6,276.0 L225.2,274.0 L241.7,277.0 L258.3,274.0" fill="none" stroke="#111111" stroke-width="1.7" stroke-dasharray="3,2" stroke-linejoin="round"/>
<path d="M42.9,243.6 L59.5,247.0 L76.0,248.2 L92.6,251.0 L109.2,252.5 L125.7,254.0 L142.3,256.0 L158.9,256.4 L175.5,253.6 L192.0,254.5 L208.6,255.0 L225.2,254.5 L241.7,251.7 L258.3,251.0" fill="none" stroke="#f0a070" stroke-width="1.2" stroke-linejoin="round"/>
<path d="M42.9,245.0 L59.5,246.4 L76.0,249.0 L92.6,250.4 L109.2,252.7 L125.7,255.5 L142.3,257.3 L158.9,258.0 L175.5,256.0 L192.0,256.5 L208.6,256.5 L225.2,256.0 L241.7,254.0 L258.3,254.0" fill="none" stroke="#5a8ed8" stroke-width="1.2" stroke-linejoin="round"/>
<path d="M42.9,260.4 L59.5,262.4 L76.0,263.0 L92.6,265.0 L109.2,266.0 L125.7,266.0 L142.3,269.5 L158.9,271.0 L175.5,269.0 L192.0,270.0 L208.6,267.7 L225.2,267.0 L241.7,265.5 L258.3,266.3" fill="none" stroke="#f06a6a" stroke-width="1.2" stroke-linejoin="round"/>
<path d="M42.9,251.5 L59.5,254.0 L76.0,256.4 L92.6,258.0 L109.2,257.3 L125.7,259.0 L142.3,264.0 L158.9,262.0 L175.5,262.0 L192.0,262.5 L208.6,264.0 L225.2,263.0 L241.7,261.2 L258.3,261.2" fill="none" stroke="#f0d830" stroke-width="1.2" stroke-linejoin="round"/>
<path d="M42.9,255.5 L59.5,256.4 L76.0,261.8 L92.6,263.6 L109.2,265.5 L125.7,264.5 L142.3,269.0 L158.9,265.5 L175.5,262.7 L192.0,262.7 L208.6,261.2 L225.2,261.2 L241.7,256.1 L258.3,256.1" fill="none" stroke="#a0a0a0" stroke-width="1.2" stroke-linejoin="round"/>
<path d="M42.9,247.3 L59.5,251.8 L76.0,251.8 L92.6,256.4 L109.2,260.0 L125.7,260.0 L142.3,262.7 L158.9,261.0 L175.5,257.3 L192.0,258.2 L208.6,256.8 L225.2,256.1 L241.7,253.2 L258.3,253.2" fill="none" stroke="#8cc860" stroke-width="1.2" stroke-linejoin="round"/>
<rect x="40.2" y="281.2" width="5.4" height="5.4" fill="none" stroke="#111" stroke-width="1.2"/>
<path d="M38.9,241.8 L46.9,248.2 M46.9,241.8 L38.9,248.2" stroke="#3a7bd5" stroke-width="1.2" fill="none"/>
<path d="M38.9,240.4 L46.9,246.8 M46.9,240.4 L38.9,246.8" stroke="#f08a4b" stroke-width="1.2" fill="none"/>
<circle cx="42.9" cy="260.4" r="3.8" fill="#e8161e" stroke="#111" stroke-width="1"/>
<path d="M42.9,247.5 L46.9,251.5 L42.9,255.5 L38.9,251.5 Z" fill="#f5d000" stroke="#111" stroke-width="1"/>
<path d="M42.9,243.2 L46.9,250.9 L38.9,250.9 Z" fill="#5aaa3c" stroke="#111" stroke-width="1.1"/>
<rect x="40.1" y="252.7" width="5.6" height="5.6" fill="#808080" stroke="#111" stroke-width="1.1"/>
<rect x="56.8" y="283.4" width="5.4" height="5.4" fill="none" stroke="#111" stroke-width="1.2"/>
<path d="M55.5,243.8 L63.5,250.2 M63.5,243.8 L55.5,250.2" stroke="#f08a4b" stroke-width="1.2" fill="none"/>
<path d="M55.5,243.2 L63.5,249.6 M63.5,243.2 L55.5,249.6" stroke="#3a7bd5" stroke-width="1.2" fill="none"/>
<circle cx="59.5" cy="262.4" r="3.8" fill="#e8161e" stroke="#111" stroke-width="1"/>
<path d="M59.5,250.0 L63.5,254.0 L59.5,258.0 L55.5,254.0 Z" fill="#f5d000" stroke="#111" stroke-width="1"/>
<path d="M59.5,247.7 L63.5,255.4 L55.5,255.4 Z" fill="#5aaa3c" stroke="#111" stroke-width="1.1"/>
<rect x="56.7" y="253.6" width="5.6" height="5.6" fill="#808080" stroke="#111" stroke-width="1.1"/>
<rect x="73.3" y="281.3" width="5.4" height="5.4" fill="none" stroke="#111" stroke-width="1.2"/>
<path d="M72.0,245.8 L80.0,252.2 M80.0,245.8 L72.0,252.2" stroke="#3a7bd5" stroke-width="1.2" fill="none"/>
<path d="M72.0,245.0 L80.0,251.4 M80.0,245.0 L72.0,251.4" stroke="#f08a4b" stroke-width="1.2" fill="none"/>
<circle cx="76.0" cy="263.0" r="3.8" fill="#e8161e" stroke="#111" stroke-width="1"/>
<path d="M76.0,252.4 L80.0,256.4 L76.0,260.4 L72.0,256.4 Z" fill="#f5d000" stroke="#111" stroke-width="1"/>
<path d="M76.0,247.7 L80.0,255.4 L72.0,255.4 Z" fill="#5aaa3c" stroke="#111" stroke-width="1.1"/>
<rect x="73.2" y="259.0" width="5.6" height="5.6" fill="#808080" stroke="#111" stroke-width="1.1"/>
<rect x="89.9" y="282.3" width="5.4" height="5.4" fill="none" stroke="#111" stroke-width="1.2"/>
<path d="M88.6,247.8 L96.6,254.2 M96.6,247.8 L88.6,254.2" stroke="#f08a4b" stroke-width="1.2" fill="none"/>
<path d="M88.6,247.2 L96.6,253.6 M96.6,247.2 L88.6,253.6" stroke="#3a7bd5" stroke-width="1.2" fill="none"/>
<circle cx="92.6" cy="265.0" r="3.8" fill="#e8161e" stroke="#111" stroke-width="1"/>
<path d="M92.6,254.0 L96.6,258.0 L92.6,262.0 L88.6,258.0 Z" fill="#f5d000" stroke="#111" stroke-width="1"/>
<path d="M92.6,252.3 L96.6,260.0 L88.6,260.0 Z" fill="#5aaa3c" stroke="#111" stroke-width="1.1"/>
<rect x="89.8" y="260.8" width="5.6" height="5.6" fill="#808080" stroke="#111" stroke-width="1.1"/>
<rect x="106.5" y="276.8" width="5.4" height="5.4" fill="none" stroke="#111" stroke-width="1.2"/>
<path d="M105.2,249.3 L113.2,255.7 M113.2,249.3 L105.2,255.7" stroke="#f08a4b" stroke-width="1.2" fill="none"/>
<path d="M105.2,249.5 L113.2,255.9 M113.2,249.5 L105.2,255.9" stroke="#3a7bd5" stroke-width="1.2" fill="none"/>
<circle cx="109.2" cy="266.0" r="3.8" fill="#e8161e" stroke="#111" stroke-width="1"/>
<path d="M109.2,253.3 L113.2,257.3 L109.2,261.3 L105.2,257.3 Z" fill="#f5d000" stroke="#111" stroke-width="1"/>
<path d="M109.2,255.9 L113.2,263.6 L105.2,263.6 Z" fill="#5aaa3c" stroke="#111" stroke-width="1.1"/>
<rect x="106.4" y="262.7" width="5.6" height="5.6" fill="#808080" stroke="#111" stroke-width="1.1"/>
<rect x="123.0" y="272.3" width="5.4" height="5.4" fill="none" stroke="#111" stroke-width="1.2"/>
<path d="M121.7,250.8 L129.7,257.2 M129.7,250.8 L121.7,257.2" stroke="#f08a4b" stroke-width="1.2" fill="none"/>
<path d="M121.7,252.3 L129.7,258.7 M129.7,252.3 L121.7,258.7" stroke="#3a7bd5" stroke-width="1.2" fill="none"/>
<circle cx="125.7" cy="266.0" r="3.8" fill="#e8161e" stroke="#111" stroke-width="1"/>
<path d="M125.7,255.0 L129.7,259.0 L125.7,263.0 L121.7,259.0 Z" fill="#f5d000" stroke="#111" stroke-width="1"/>
<path d="M125.7,255.9 L129.7,263.6 L121.7,263.6 Z" fill="#5aaa3c" stroke="#111" stroke-width="1.1"/>
<rect x="122.9" y="261.7" width="5.6" height="5.6" fill="#808080" stroke="#111" stroke-width="1.1"/>
<rect x="139.6" y="275.1" width="5.4" height="5.4" fill="none" stroke="#111" stroke-width="1.2"/>
<path d="M138.3,252.8 L146.3,259.2 M146.3,252.8 L138.3,259.2" stroke="#f08a4b" stroke-width="1.2" fill="none"/>
<path d="M138.3,254.1 L146.3,260.5 M146.3,254.1 L138.3,260.5" stroke="#3a7bd5" stroke-width="1.2" fill="none"/>
<circle cx="142.3" cy="269.5" r="3.8" fill="#e8161e" stroke="#111" stroke-width="1"/>
<path d="M142.3,260.0 L146.3,264.0 L142.3,268.0 L138.3,264.0 Z" fill="#f5d000" stroke="#111" stroke-width="1"/>
<path d="M142.3,258.6 L146.3,266.3 L138.3,266.3 Z" fill="#5aaa3c" stroke="#111" stroke-width="1.1"/>
<rect x="139.5" y="266.2" width="5.6" height="5.6" fill="#808080" stroke="#111" stroke-width="1.1"/>
<rect x="156.2" y="273.3" width="5.4" height="5.4" fill="none" stroke="#111" stroke-width="1.2"/>
<path d="M154.9,254.8 L162.9,261.2 M162.9,254.8 L154.9,261.2" stroke="#3a7bd5" stroke-width="1.2" fill="none"/>
<path d="M154.9,253.2 L162.9,259.6 M162.9,253.2 L154.9,259.6" stroke="#f08a4b" stroke-width="1.2" fill="none"/>
<circle cx="158.9" cy="271.0" r="3.8" fill="#e8161e" stroke="#111" stroke-width="1"/>
<path d="M158.9,258.0 L162.9,262.0 L158.9,266.0 L154.9,262.0 Z" fill="#f5d000" stroke="#111" stroke-width="1"/>
<path d="M158.9,256.9 L162.9,264.6 L154.9,264.6 Z" fill="#5aaa3c" stroke="#111" stroke-width="1.1"/>
<rect x="156.1" y="262.7" width="5.6" height="5.6" fill="#808080" stroke="#111" stroke-width="1.1"/>
<rect x="172.8" y="273.3" width="5.4" height="5.4" fill="none" stroke="#111" stroke-width="1.2"/>
<path d="M171.5,252.8 L179.5,259.2 M179.5,252.8 L171.5,259.2" stroke="#3a7bd5" stroke-width="1.2" fill="none"/>
<path d="M171.5,250.4 L179.5,256.8 M179.5,250.4 L171.5,256.8" stroke="#f08a4b" stroke-width="1.2" fill="none"/>
<circle cx="175.5" cy="269.0" r="3.8" fill="#e8161e" stroke="#111" stroke-width="1"/>
<path d="M175.5,258.0 L179.5,262.0 L175.5,266.0 L171.5,262.0 Z" fill="#f5d000" stroke="#111" stroke-width="1"/>
<path d="M175.5,253.2 L179.5,260.9 L171.5,260.9 Z" fill="#5aaa3c" stroke="#111" stroke-width="1.1"/>
<rect x="172.7" y="259.9" width="5.6" height="5.6" fill="#808080" stroke="#111" stroke-width="1.1"/>
<rect x="189.3" y="274.1" width="5.4" height="5.4" fill="none" stroke="#111" stroke-width="1.2"/>
<path d="M188.0,253.3 L196.0,259.7 M196.0,253.3 L188.0,259.7" stroke="#3a7bd5" stroke-width="1.2" fill="none"/>
<path d="M188.0,251.3 L196.0,257.7 M196.0,251.3 L188.0,257.7" stroke="#f08a4b" stroke-width="1.2" fill="none"/>
<circle cx="192.0" cy="270.0" r="3.8" fill="#e8161e" stroke="#111" stroke-width="1"/>
<path d="M192.0,258.5 L196.0,262.5 L192.0,266.5 L188.0,262.5 Z" fill="#f5d000" stroke="#111" stroke-width="1"/>
<path d="M192.0,254.1 L196.0,261.8 L188.0,261.8 Z" fill="#5aaa3c" stroke="#111" stroke-width="1.1"/>
<rect x="189.2" y="259.9" width="5.6" height="5.6" fill="#808080" stroke="#111" stroke-width="1.1"/>
<rect x="205.9" y="273.3" width="5.4" height="5.4" fill="none" stroke="#111" stroke-width="1.2"/>
<path d="M204.6,253.3 L212.6,259.7 M212.6,253.3 L204.6,259.7" stroke="#3a7bd5" stroke-width="1.2" fill="none"/>
<path d="M204.6,251.8 L212.6,258.2 M212.6,251.8 L204.6,258.2" stroke="#f08a4b" stroke-width="1.2" fill="none"/>
<circle cx="208.6" cy="267.7" r="3.8" fill="#e8161e" stroke="#111" stroke-width="1"/>
<path d="M208.6,260.0 L212.6,264.0 L208.6,268.0 L204.6,264.0 Z" fill="#f5d000" stroke="#111" stroke-width="1"/>
<path d="M208.6,252.7 L212.6,260.4 L204.6,260.4 Z" fill="#5aaa3c" stroke="#111" stroke-width="1.1"/>
<rect x="205.8" y="258.4" width="5.6" height="5.6" fill="#808080" stroke="#111" stroke-width="1.1"/>
<rect x="222.5" y="271.3" width="5.4" height="5.4" fill="none" stroke="#111" stroke-width="1.2"/>
<path d="M221.2,252.8 L229.2,259.2 M229.2,252.8 L221.2,259.2" stroke="#3a7bd5" stroke-width="1.2" fill="none"/>
<path d="M221.2,251.3 L229.2,257.7 M229.2,251.3 L221.2,257.7" stroke="#f08a4b" stroke-width="1.2" fill="none"/>
<circle cx="225.2" cy="267.0" r="3.8" fill="#e8161e" stroke="#111" stroke-width="1"/>
<path d="M225.2,259.0 L229.2,263.0 L225.2,267.0 L221.2,263.0 Z" fill="#f5d000" stroke="#111" stroke-width="1"/>
<path d="M225.2,252.0 L229.2,259.7 L221.2,259.7 Z" fill="#5aaa3c" stroke="#111" stroke-width="1.1"/>
<rect x="222.4" y="258.4" width="5.6" height="5.6" fill="#808080" stroke="#111" stroke-width="1.1"/>
<rect x="239.0" y="274.3" width="5.4" height="5.4" fill="none" stroke="#111" stroke-width="1.2"/>
<path d="M237.7,250.8 L245.7,257.2 M245.7,250.8 L237.7,257.2" stroke="#3a7bd5" stroke-width="1.2" fill="none"/>
<path d="M237.7,248.5 L245.7,254.9 M245.7,248.5 L237.7,254.9" stroke="#f08a4b" stroke-width="1.2" fill="none"/>
<circle cx="241.7" cy="265.5" r="3.8" fill="#e8161e" stroke="#111" stroke-width="1"/>
<path d="M241.7,257.2 L245.7,261.2 L241.7,265.2 L237.7,261.2 Z" fill="#f5d000" stroke="#111" stroke-width="1"/>
<path d="M241.7,249.1 L245.7,256.8 L237.7,256.8 Z" fill="#5aaa3c" stroke="#111" stroke-width="1.1"/>
<rect x="238.9" y="253.3" width="5.6" height="5.6" fill="#808080" stroke="#111" stroke-width="1.1"/>
<rect x="255.6" y="271.3" width="5.4" height="5.4" fill="none" stroke="#111" stroke-width="1.2"/>
<path d="M254.3,250.8 L262.3,257.2 M262.3,250.8 L254.3,257.2" stroke="#3a7bd5" stroke-width="1.2" fill="none"/>
<path d="M254.3,247.8 L262.3,254.2 M262.3,247.8 L254.3,254.2" stroke="#f08a4b" stroke-width="1.2" fill="none"/>
<circle cx="258.3" cy="266.3" r="3.8" fill="#e8161e" stroke="#111" stroke-width="1"/>
<path d="M258.3,257.2 L262.3,261.2 L258.3,265.2 L254.3,261.2 Z" fill="#f5d000" stroke="#111" stroke-width="1"/>
<path d="M258.3,249.1 L262.3,256.8 L254.3,256.8 Z" fill="#5aaa3c" stroke="#111" stroke-width="1.1"/>
<rect x="255.5" y="253.3" width="5.6" height="5.6" fill="#808080" stroke="#111" stroke-width="1.1"/>
<text x="44.5" y="207" font-size="15" style="stroke:none">C</text>
<text x="139.5" y="199.1" font-size="12.5" font-weight="bold" style="stroke-width:0.1px">Profile 2</text>
<path d="M301.6,181.3 V293.0 H541.3" fill="none" stroke="#3a3a3a" stroke-width="1.5"/>
<line x1="298.6" y1="181.3" x2="301.6" y2="181.3" stroke="#3a3a3a" stroke-width="1.2"/>
<text x="296.6" y="183.9" text-anchor="end" font-size="8.5">100</text>
<line x1="298.6" y1="218.5" x2="301.6" y2="218.5" stroke="#3a3a3a" stroke-width="1.2"/>
<text x="296.6" y="221.1" text-anchor="end" font-size="8.5">10</text>
<line x1="298.6" y1="255.8" x2="301.6" y2="255.8" stroke="#3a3a3a" stroke-width="1.2"/>
<text x="296.6" y="258.4" text-anchor="end" font-size="8.5">1</text>
<line x1="298.6" y1="293.0" x2="301.6" y2="293.0" stroke="#3a3a3a" stroke-width="1.2"/>
<text x="296.6" y="295.6" text-anchor="end" font-size="8.5">0.1</text>
<line x1="318.7" y1="293.0" x2="318.7" y2="295.5" stroke="#3a3a3a" stroke-width="1.2"/>
<line x1="335.8" y1="293.0" x2="335.8" y2="295.5" stroke="#3a3a3a" stroke-width="1.2"/>
<line x1="353.0" y1="293.0" x2="353.0" y2="295.5" stroke="#3a3a3a" stroke-width="1.2"/>
<line x1="370.1" y1="293.0" x2="370.1" y2="295.5" stroke="#3a3a3a" stroke-width="1.2"/>
<line x1="387.2" y1="293.0" x2="387.2" y2="295.5" stroke="#3a3a3a" stroke-width="1.2"/>
<line x1="404.3" y1="293.0" x2="404.3" y2="295.5" stroke="#3a3a3a" stroke-width="1.2"/>
<line x1="421.4" y1="293.0" x2="421.4" y2="295.5" stroke="#3a3a3a" stroke-width="1.2"/>
<line x1="438.6" y1="293.0" x2="438.6" y2="295.5" stroke="#3a3a3a" stroke-width="1.2"/>
<line x1="455.7" y1="293.0" x2="455.7" y2="295.5" stroke="#3a3a3a" stroke-width="1.2"/>
<line x1="472.8" y1="293.0" x2="472.8" y2="295.5" stroke="#3a3a3a" stroke-width="1.2"/>
<line x1="489.9" y1="293.0" x2="489.9" y2="295.5" stroke="#3a3a3a" stroke-width="1.2"/>
<line x1="507.1" y1="293.0" x2="507.1" y2="295.5" stroke="#3a3a3a" stroke-width="1.2"/>
<line x1="524.2" y1="293.0" x2="524.2" y2="295.5" stroke="#3a3a3a" stroke-width="1.2"/>
<line x1="541.3" y1="293.0" x2="541.3" y2="295.5" stroke="#3a3a3a" stroke-width="1.2"/>
<text x="310.2" y="304.5" text-anchor="middle" font-size="9">La</text>
<text x="327.3" y="304.5" text-anchor="middle" font-size="9">Ce</text>
<text x="344.4" y="304.5" text-anchor="middle" font-size="9">Pr</text>
<text x="361.5" y="304.5" text-anchor="middle" font-size="9">Nd</text>
<text x="378.6" y="304.5" text-anchor="middle" font-size="9">Sm</text>
<text x="395.8" y="304.5" text-anchor="middle" font-size="9">Eu</text>
<text x="412.9" y="304.5" text-anchor="middle" font-size="9">Gd</text>
<text x="430.0" y="304.5" text-anchor="middle" font-size="9">Tb</text>
<text x="447.1" y="304.5" text-anchor="middle" font-size="9">Dy</text>
<text x="464.3" y="304.5" text-anchor="middle" font-size="9">Ho</text>
<text x="481.4" y="304.5" text-anchor="middle" font-size="9">Er</text>
<text x="498.5" y="304.5" text-anchor="middle" font-size="9">Tm</text>
<text x="515.6" y="304.5" text-anchor="middle" font-size="9">Yb</text>
<text x="532.7" y="304.5" text-anchor="middle" font-size="9">Lu</text>
<text transform="translate(284.7,241) rotate(-90)" text-anchor="middle" font-size="10.8">Sample/Sandstone</text>
<path d="M310.2,215.5 L327.3,216.5 L344.4,219.0 L361.5,221.0 L378.6,229.5 L395.8,235.0 L412.9,235.4 L430.0,236.1 L447.1,233.9 L464.3,236.1 L481.4,234.5 L498.5,236.1 L515.6,232.9 L532.7,234.5" fill="none" stroke="#f0a070" stroke-width="1.2" stroke-linejoin="round"/>
<path d="M310.2,217.0 L327.3,215.5 L344.4,219.5 L361.5,220.4 L378.6,229.0 L395.8,234.6 L412.9,235.4 L430.0,236.5 L447.1,234.5 L464.3,236.5 L481.4,235.5 L498.5,236.5 L515.6,233.5 L532.7,235.5" fill="none" stroke="#5a8ed8" stroke-width="1.2" stroke-linejoin="round"/>
<path d="M310.2,231.8 L327.3,231.0 L344.4,234.0 L361.5,235.0 L378.6,243.0 L395.8,247.0 L412.9,248.0 L430.0,249.4 L447.1,248.0 L464.3,249.4 L481.4,247.2 L498.5,248.0 L515.6,244.0 L532.7,248.0" fill="none" stroke="#f06a6a" stroke-width="1.2" stroke-linejoin="round"/>
<path d="M310.2,222.7 L327.3,223.5 L344.4,227.3 L361.5,229.0 L378.6,232.7 L395.8,239.0 L412.9,242.0 L430.0,242.0 L447.1,240.5 L464.3,240.0 L481.4,243.6 L498.5,246.0 L515.6,240.4 L532.7,242.8" fill="none" stroke="#f0d830" stroke-width="1.2" stroke-linejoin="round"/>
<path d="M310.2,226.4 L327.3,225.5 L344.4,233.6 L361.5,233.6 L378.6,241.8 L395.8,244.8 L412.9,247.7 L430.0,245.5 L447.1,242.6 L464.3,242.0 L481.4,240.4 L498.5,242.5 L515.6,235.3 L532.7,238.2" fill="none" stroke="#a0a0a0" stroke-width="1.2" stroke-linejoin="round"/>
<path d="M310.2,218.2 L327.3,220.0 L344.4,222.7 L361.5,226.4 L378.6,235.5 L395.8,239.7 L412.9,241.2 L430.0,241.2 L447.1,237.5 L464.3,237.0 L481.4,236.3 L498.5,236.3 L515.6,236.5 L532.7,235.0" fill="none" stroke="#8cc860" stroke-width="1.2" stroke-linejoin="round"/>
<path d="M306.2,213.8 L314.2,220.2 M314.2,213.8 L306.2,220.2" stroke="#3a7bd5" stroke-width="1.2" fill="none"/>
<path d="M306.2,212.3 L314.2,218.7 M314.2,212.3 L306.2,218.7" stroke="#f08a4b" stroke-width="1.2" fill="none"/>
<circle cx="310.2" cy="231.8" r="3.9" fill="#e8161e" stroke="#111" stroke-width="1"/>
<path d="M310.2,218.7 L314.2,222.7 L310.2,226.7 L306.2,222.7 Z" fill="#f5d000" stroke="#111" stroke-width="1"/>
<path d="M310.2,214.1 L314.2,221.8 L306.2,221.8 Z" fill="#5aaa3c" stroke="#111" stroke-width="1.1"/>
<rect x="307.4" y="223.6" width="5.6" height="5.6" fill="#808080" stroke="#111" stroke-width="1.1"/>
<path d="M323.3,213.3 L331.3,219.7 M331.3,213.3 L323.3,219.7" stroke="#f08a4b" stroke-width="1.2" fill="none"/>
<path d="M323.3,212.3 L331.3,218.7 M331.3,212.3 L323.3,218.7" stroke="#3a7bd5" stroke-width="1.2" fill="none"/>
<circle cx="327.3" cy="231.0" r="3.9" fill="#e8161e" stroke="#111" stroke-width="1"/>
<path d="M327.3,219.5 L331.3,223.5 L327.3,227.5 L323.3,223.5 Z" fill="#f5d000" stroke="#111" stroke-width="1"/>
<path d="M327.3,215.9 L331.3,223.6 L323.3,223.6 Z" fill="#5aaa3c" stroke="#111" stroke-width="1.1"/>
<rect x="324.5" y="222.7" width="5.6" height="5.6" fill="#808080" stroke="#111" stroke-width="1.1"/>
<path d="M340.4,216.3 L348.4,222.7 M348.4,216.3 L340.4,222.7" stroke="#3a7bd5" stroke-width="1.2" fill="none"/>
<path d="M340.4,215.8 L348.4,222.2 M348.4,215.8 L340.4,222.2" stroke="#f08a4b" stroke-width="1.2" fill="none"/>
<circle cx="344.4" cy="234.0" r="3.9" fill="#e8161e" stroke="#111" stroke-width="1"/>
<path d="M344.4,223.3 L348.4,227.3 L344.4,231.3 L340.4,227.3 Z" fill="#f5d000" stroke="#111" stroke-width="1"/>
<path d="M344.4,218.6 L348.4,226.3 L340.4,226.3 Z" fill="#5aaa3c" stroke="#111" stroke-width="1.1"/>
<rect x="341.6" y="230.8" width="5.6" height="5.6" fill="#808080" stroke="#111" stroke-width="1.1"/>
<path d="M357.5,217.8 L365.5,224.2 M365.5,217.8 L357.5,224.2" stroke="#f08a4b" stroke-width="1.2" fill="none"/>
<path d="M357.5,217.2 L365.5,223.6 M365.5,217.2 L357.5,223.6" stroke="#3a7bd5" stroke-width="1.2" fill="none"/>
<circle cx="361.5" cy="235.0" r="3.9" fill="#e8161e" stroke="#111" stroke-width="1"/>
<path d="M361.5,225.0 L365.5,229.0 L361.5,233.0 L357.5,229.0 Z" fill="#f5d000" stroke="#111" stroke-width="1"/>
<path d="M361.5,222.3 L365.5,230.0 L357.5,230.0 Z" fill="#5aaa3c" stroke="#111" stroke-width="1.1"/>
<rect x="358.7" y="230.8" width="5.6" height="5.6" fill="#808080" stroke="#111" stroke-width="1.1"/>
<path d="M374.6,226.3 L382.6,232.7 M382.6,226.3 L374.6,232.7" stroke="#f08a4b" stroke-width="1.2" fill="none"/>
<path d="M374.6,225.8 L382.6,232.2 M382.6,225.8 L374.6,232.2" stroke="#3a7bd5" stroke-width="1.2" fill="none"/>
<circle cx="378.6" cy="243.0" r="3.9" fill="#e8161e" stroke="#111" stroke-width="1"/>
<path d="M378.6,228.7 L382.6,232.7 L378.6,236.7 L374.6,232.7 Z" fill="#f5d000" stroke="#111" stroke-width="1"/>
<path d="M378.6,231.4 L382.6,239.1 L374.6,239.1 Z" fill="#5aaa3c" stroke="#111" stroke-width="1.1"/>
<rect x="375.8" y="239.0" width="5.6" height="5.6" fill="#808080" stroke="#111" stroke-width="1.1"/>
<path d="M391.8,231.8 L399.8,238.2 M399.8,231.8 L391.8,238.2" stroke="#f08a4b" stroke-width="1.2" fill="none"/>
<path d="M391.8,231.4 L399.8,237.8 M399.8,231.4 L391.8,237.8" stroke="#3a7bd5" stroke-width="1.2" fill="none"/>
<circle cx="395.8" cy="247.0" r="3.9" fill="#e8161e" stroke="#111" stroke-width="1"/>
<path d="M395.8,235.0 L399.8,239.0 L395.8,243.0 L391.8,239.0 Z" fill="#f5d000" stroke="#111" stroke-width="1"/>
<path d="M395.8,235.6 L399.8,243.3 L391.8,243.3 Z" fill="#5aaa3c" stroke="#111" stroke-width="1.1"/>
<rect x="393.0" y="242.0" width="5.6" height="5.6" fill="#808080" stroke="#111" stroke-width="1.1"/>
<path d="M408.9,232.2 L416.9,238.6 M416.9,232.2 L408.9,238.6" stroke="#3a7bd5" stroke-width="1.2" fill="none"/>
<path d="M408.9,232.2 L416.9,238.6 M416.9,232.2 L408.9,238.6" stroke="#f08a4b" stroke-width="1.2" fill="none"/>
<circle cx="412.9" cy="248.0" r="3.9" fill="#e8161e" stroke="#111" stroke-width="1"/>
<path d="M412.9,238.0 L416.9,242.0 L412.9,246.0 L408.9,242.0 Z" fill="#f5d000" stroke="#111" stroke-width="1"/>
<path d="M412.9,237.1 L416.9,244.8 L408.9,244.8 Z" fill="#5aaa3c" stroke="#111" stroke-width="1.1"/>
<rect x="410.1" y="244.9" width="5.6" height="5.6" fill="#808080" stroke="#111" stroke-width="1.1"/>
<path d="M426.0,233.3 L434.0,239.7 M434.0,233.3 L426.0,239.7" stroke="#3a7bd5" stroke-width="1.2" fill="none"/>
<path d="M426.0,232.9 L434.0,239.3 M434.0,232.9 L426.0,239.3" stroke="#f08a4b" stroke-width="1.2" fill="none"/>
<path d="M430.0,238.0 L434.0,242.0 L430.0,246.0 L426.0,242.0 Z" fill="#f5d000" stroke="#111" stroke-width="1"/>
<path d="M430.0,237.1 L434.0,244.8 L426.0,244.8 Z" fill="#5aaa3c" stroke="#111" stroke-width="1.1"/>
<rect x="427.2" y="242.7" width="5.6" height="5.6" fill="#808080" stroke="#111" stroke-width="1.1"/>
<circle cx="430.0" cy="249.4" r="3.9" fill="#e8161e" stroke="#111" stroke-width="1"/>
<path d="M443.1,231.3 L451.1,237.7 M451.1,231.3 L443.1,237.7" stroke="#3a7bd5" stroke-width="1.2" fill="none"/>
<path d="M443.1,230.7 L451.1,237.1 M451.1,230.7 L443.1,237.1" stroke="#f08a4b" stroke-width="1.2" fill="none"/>
<path d="M447.1,236.5 L451.1,240.5 L447.1,244.5 L443.1,240.5 Z" fill="#f5d000" stroke="#111" stroke-width="1"/>
<path d="M447.1,233.4 L451.1,241.1 L443.1,241.1 Z" fill="#5aaa3c" stroke="#111" stroke-width="1.1"/>
<rect x="444.3" y="239.8" width="5.6" height="5.6" fill="#808080" stroke="#111" stroke-width="1.1"/>
<circle cx="447.1" cy="248.0" r="3.9" fill="#e8161e" stroke="#111" stroke-width="1"/>
<path d="M460.3,233.3 L468.3,239.7 M468.3,233.3 L460.3,239.7" stroke="#3a7bd5" stroke-width="1.2" fill="none"/>
<path d="M460.3,232.9 L468.3,239.3 M468.3,232.9 L460.3,239.3" stroke="#f08a4b" stroke-width="1.2" fill="none"/>
<path d="M464.3,236.0 L468.3,240.0 L464.3,244.0 L460.3,240.0 Z" fill="#f5d000" stroke="#111" stroke-width="1"/>
<path d="M464.3,232.9 L468.3,240.6 L460.3,240.6 Z" fill="#5aaa3c" stroke="#111" stroke-width="1.1"/>
<rect x="461.5" y="239.2" width="5.6" height="5.6" fill="#808080" stroke="#111" stroke-width="1.1"/>
<circle cx="464.3" cy="249.4" r="3.9" fill="#e8161e" stroke="#111" stroke-width="1"/>
<path d="M477.4,232.3 L485.4,238.7 M485.4,232.3 L477.4,238.7" stroke="#3a7bd5" stroke-width="1.2" fill="none"/>
<path d="M477.4,231.3 L485.4,237.7 M485.4,231.3 L477.4,237.7" stroke="#f08a4b" stroke-width="1.2" fill="none"/>
<circle cx="481.4" cy="247.2" r="3.9" fill="#e8161e" stroke="#111" stroke-width="1"/>
<path d="M481.4,239.6 L485.4,243.6 L481.4,247.6 L477.4,243.6 Z" fill="#f5d000" stroke="#111" stroke-width="1"/>
<path d="M481.4,232.2 L485.4,239.9 L477.4,239.9 Z" fill="#5aaa3c" stroke="#111" stroke-width="1.1"/>
<rect x="478.6" y="237.6" width="5.6" height="5.6" fill="#808080" stroke="#111" stroke-width="1.1"/>
<path d="M494.5,233.3 L502.5,239.7 M502.5,233.3 L494.5,239.7" stroke="#3a7bd5" stroke-width="1.2" fill="none"/>
<path d="M494.5,232.9 L502.5,239.3 M502.5,232.9 L494.5,239.3" stroke="#f08a4b" stroke-width="1.2" fill="none"/>
<circle cx="498.5" cy="248.0" r="3.9" fill="#e8161e" stroke="#111" stroke-width="1"/>
<path d="M498.5,242.0 L502.5,246.0 L498.5,250.0 L494.5,246.0 Z" fill="#f5d000" stroke="#111" stroke-width="1"/>
<path d="M498.5,232.2 L502.5,239.9 L494.5,239.9 Z" fill="#5aaa3c" stroke="#111" stroke-width="1.1"/>
<rect x="495.7" y="239.7" width="5.6" height="5.6" fill="#808080" stroke="#111" stroke-width="1.1"/>
<path d="M511.6,230.3 L519.6,236.7 M519.6,230.3 L511.6,236.7" stroke="#3a7bd5" stroke-width="1.2" fill="none"/>
<path d="M511.6,229.7 L519.6,236.1 M519.6,229.7 L511.6,236.1" stroke="#f08a4b" stroke-width="1.2" fill="none"/>
<circle cx="515.6" cy="244.0" r="3.9" fill="#e8161e" stroke="#111" stroke-width="1"/>
<path d="M515.6,236.4 L519.6,240.4 L515.6,244.4 L511.6,240.4 Z" fill="#f5d000" stroke="#111" stroke-width="1"/>
<path d="M515.6,232.4 L519.6,240.1 L511.6,240.1 Z" fill="#5aaa3c" stroke="#111" stroke-width="1.1"/>
<rect x="512.8" y="232.5" width="5.6" height="5.6" fill="#808080" stroke="#111" stroke-width="1.1"/>
<path d="M528.7,232.3 L536.7,238.7 M536.7,232.3 L528.7,238.7" stroke="#3a7bd5" stroke-width="1.2" fill="none"/>
<path d="M528.7,231.3 L536.7,237.7 M536.7,231.3 L528.7,237.7" stroke="#f08a4b" stroke-width="1.2" fill="none"/>
<circle cx="532.7" cy="248.0" r="3.9" fill="#e8161e" stroke="#111" stroke-width="1"/>
<path d="M532.7,238.8 L536.7,242.8 L532.7,246.8 L528.7,242.8 Z" fill="#f5d000" stroke="#111" stroke-width="1"/>
<path d="M532.7,230.9 L536.7,238.6 L528.7,238.6 Z" fill="#5aaa3c" stroke="#111" stroke-width="1.1"/>
<rect x="529.9" y="235.4" width="5.6" height="5.6" fill="#808080" stroke="#111" stroke-width="1.1"/>
<text x="309.5" y="284.5" font-size="15" style="stroke:none">D</text>
<text x="447.5" y="277.4" font-size="12.5" font-weight="bold" style="stroke-width:0.1px">Profile 2</text>
<path d="M34.6,333.8 V444.5 H269.8" fill="none" stroke="#3a3a3a" stroke-width="1.5"/>
<line x1="31.6" y1="333.8" x2="34.6" y2="333.8" stroke="#3a3a3a" stroke-width="1.2"/>
<text x="30.400000000000002" y="336.4" text-anchor="end" font-size="8.5">100</text>
<line x1="31.6" y1="370.7" x2="34.6" y2="370.7" stroke="#3a3a3a" stroke-width="1.2"/>
<text x="30.400000000000002" y="373.3" text-anchor="end" font-size="8.5">10</text>
<line x1="31.6" y1="407.6" x2="34.6" y2="407.6" stroke="#3a3a3a" stroke-width="1.2"/>
<text x="30.400000000000002" y="410.2" text-anchor="end" font-size="8.5">1</text>
<line x1="31.6" y1="444.5" x2="34.6" y2="444.5" stroke="#3a3a3a" stroke-width="1.2"/>
<text x="30.400000000000002" y="447.1" text-anchor="end" font-size="8.5">0.1</text>
<line x1="51.4" y1="444.5" x2="51.4" y2="447.0" stroke="#3a3a3a" stroke-width="1.2"/>
<line x1="68.2" y1="444.5" x2="68.2" y2="447.0" stroke="#3a3a3a" stroke-width="1.2"/>
<line x1="85.0" y1="444.5" x2="85.0" y2="447.0" stroke="#3a3a3a" stroke-width="1.2"/>
<line x1="101.8" y1="444.5" x2="101.8" y2="447.0" stroke="#3a3a3a" stroke-width="1.2"/>
<line x1="118.6" y1="444.5" x2="118.6" y2="447.0" stroke="#3a3a3a" stroke-width="1.2"/>
<line x1="135.4" y1="444.5" x2="135.4" y2="447.0" stroke="#3a3a3a" stroke-width="1.2"/>
<line x1="152.2" y1="444.5" x2="152.2" y2="447.0" stroke="#3a3a3a" stroke-width="1.2"/>
<line x1="169.0" y1="444.5" x2="169.0" y2="447.0" stroke="#3a3a3a" stroke-width="1.2"/>
<line x1="185.8" y1="444.5" x2="185.8" y2="447.0" stroke="#3a3a3a" stroke-width="1.2"/>
<line x1="202.6" y1="444.5" x2="202.6" y2="447.0" stroke="#3a3a3a" stroke-width="1.2"/>
<line x1="219.4" y1="444.5" x2="219.4" y2="447.0" stroke="#3a3a3a" stroke-width="1.2"/>
<line x1="236.2" y1="444.5" x2="236.2" y2="447.0" stroke="#3a3a3a" stroke-width="1.2"/>
<line x1="253.0" y1="444.5" x2="253.0" y2="447.0" stroke="#3a3a3a" stroke-width="1.2"/>
<line x1="269.8" y1="444.5" x2="269.8" y2="447.0" stroke="#3a3a3a" stroke-width="1.2"/>
<text x="43.0" y="456.0" text-anchor="middle" font-size="9">La</text>
<text x="59.8" y="456.0" text-anchor="middle" font-size="9">Ce</text>
<text x="76.6" y="456.0" text-anchor="middle" font-size="9">Pr</text>
<text x="93.4" y="456.0" text-anchor="middle" font-size="9">Nd</text>
<text x="110.2" y="456.0" text-anchor="middle" font-size="9">Sm</text>
<text x="127.0" y="456.0" text-anchor="middle" font-size="9">Eu</text>
<text x="143.8" y="456.0" text-anchor="middle" font-size="9">Gd</text>
<text x="160.6" y="456.0" text-anchor="middle" font-size="9">Tb</text>
<text x="177.4" y="456.0" text-anchor="middle" font-size="9">Dy</text>
<text x="194.2" y="456.0" text-anchor="middle" font-size="9">Ho</text>
<text x="211.0" y="456.0" text-anchor="middle" font-size="9">Er</text>
<text x="227.8" y="456.0" text-anchor="middle" font-size="9">Tm</text>
<text x="244.6" y="456.0" text-anchor="middle" font-size="9">Yb</text>
<text x="261.4" y="456.0" text-anchor="middle" font-size="9">Lu</text>
<text transform="translate(17,394.5) rotate(-90)" text-anchor="middle" font-size="10.8">Sample/UCC</text>
<path d="M43.0,409.5 L59.8,404.3 L76.6,412.8 L93.4,414.3 L110.2,416.3 L127.0,414.8 L143.8,410.8 L160.6,408.2 L177.4,404.2 L194.2,404.2 L211.0,402.4 L227.8,401.6 L244.6,399.8 L261.4,398.9" fill="none" stroke="#9a70c0" stroke-width="1.4" stroke-linejoin="round"/>
<path d="M43.0,410.3 L59.8,405.1 L76.6,413.6 L93.4,415.1 L110.2,417.1 L127.0,415.6 L143.8,411.6 L160.6,409.0 L177.4,405.0 L194.2,405.0 L211.0,403.2 L227.8,402.4 L244.6,400.6 L261.4,399.7" fill="none" stroke="#f08a3a" stroke-width="1.4" stroke-linejoin="round"/>
<path d="M43.0,411.0 L59.8,405.8 L76.6,414.3 L93.4,415.8 L110.2,417.8 L127.0,416.3 L143.8,412.3 L160.6,409.7 L177.4,405.7 L194.2,405.7 L211.0,403.9 L227.8,403.1 L244.6,401.3 L261.4,400.4" fill="none" stroke="#e84a4a" stroke-width="1.4" stroke-linejoin="round"/>
<path d="M43.0,409.9 L59.8,404.7 L76.6,413.2 L93.4,414.7 L110.2,416.7 L127.0,415.2 L143.8,411.2 L160.6,408.6 L177.4,404.6 L194.2,404.6 L211.0,402.8 L227.8,402.0 L244.6,400.2 L261.4,399.3" fill="none" stroke="#f0c030" stroke-width="1.4" stroke-linejoin="round"/>
<path d="M43.0,409.1 L59.8,403.9 L76.6,412.4 L93.4,413.9 L110.2,415.9 L127.0,414.4 L143.8,410.4 L160.6,407.8 L177.4,403.8 L194.2,403.8 L211.0,402.0 L227.8,401.2 L244.6,399.4 L261.4,398.5" fill="none" stroke="#a8d878" stroke-width="1.4" stroke-linejoin="round"/>
<path d="M43.0,409.7 L59.8,404.5 L76.6,413.0 L93.4,414.5 L110.2,416.5 L127.0,415.0 L143.8,411.0 L160.6,408.4 L177.4,404.4 L194.2,404.4 L211.0,402.6 L227.8,401.8 L244.6,400.0 L261.4,399.1" fill="none" stroke="#5a8a50" stroke-width="1.4" stroke-linejoin="round"/>
<path d="M43.0,408.4 L59.8,403.2 L76.6,411.7 L93.4,413.2 L110.2,415.2 L127.0,413.7 L143.8,409.7 L160.6,407.1 L177.4,403.1 L194.2,403.1 L211.0,401.3 L227.8,400.5 L244.6,398.7 L261.4,397.8" fill="none" stroke="#3a78d0" stroke-width="1.4" stroke-linejoin="round"/>
<path d="M43.0,410.3 L59.8,405.1 L76.6,413.6 L93.4,415.1 L110.2,417.1 L127.0,415.6 L143.8,411.6 L160.6,409.0 L177.4,405.0 L194.2,405.0 L211.0,403.2 L227.8,402.4 L244.6,400.6 L261.4,399.7" fill="none" stroke="#f09040" stroke-width="1.4" stroke-linejoin="round"/>
<path d="M43.0,410.7 L59.8,405.5 L76.6,414.0 L93.4,415.5 L110.2,417.5 L127.0,416.0 L143.8,412.0 L160.6,409.4 L177.4,405.4 L194.2,405.4 L211.0,403.6 L227.8,402.8 L244.6,401.0 L261.4,400.1" fill="none" stroke="#555555" stroke-width="1.4" stroke-linejoin="round"/>
<path d="M43.0,410.1 L59.8,404.9 L76.6,413.4 L93.4,414.9 L110.2,416.9 L127.0,415.4 L143.8,411.4 L160.6,408.8 L177.4,404.8 L194.2,404.8 L211.0,403.0 L227.8,402.2 L244.6,400.4 L261.4,399.5" fill="none" stroke="#c8c8c8" stroke-width="1.4" stroke-linejoin="round"/>
<path d="M43.0,408.7 L59.8,403.5 L76.6,412.0 L93.4,413.5 L110.2,415.5 L127.0,414.0 L143.8,410.0 L160.6,407.4 L177.4,403.4 L194.2,403.4 L211.0,401.6 L227.8,400.8 L244.6,399.0 L261.4,398.1" fill="none" stroke="#5ab8e8" stroke-width="1.4" stroke-linejoin="round"/>
<path d="M43.0,407.7 L59.8,402.5 L76.6,411.0 L93.4,412.5 L110.2,414.5 L127.0,413.0 L143.8,409.0 L160.6,406.4 L177.4,402.4 L194.2,402.4 L211.0,400.6 L227.8,399.8 L244.6,398.0 L261.4,397.1" fill="none" stroke="#3a68c0" stroke-width="1.4" stroke-linejoin="round"/>
<circle cx="43.0" cy="409.2" r="3.7" fill="#7b2fa8" stroke="#111" stroke-width="1.1"/>
<circle cx="43.0" cy="409.9" r="3.7" fill="#f07f1e" stroke="#111" stroke-width="1.1"/>
<circle cx="43.0" cy="410.2" r="3.7" fill="#e8161e" stroke="#111" stroke-width="1.1"/>
<circle cx="43.0" cy="412.7" r="3.7" fill="#f0b41e" stroke="#111" stroke-width="1.1"/>
<circle cx="43.0" cy="408.7" r="3.7" fill="#8cc63f" stroke="#111" stroke-width="1.1"/>
<circle cx="43.0" cy="409.7" r="3.7" fill="#2e5e2a" stroke="#111" stroke-width="1.1"/>
<circle cx="43.0" cy="408.4" r="3.7" fill="#1f6fc0" stroke="#111" stroke-width="1.1"/>
<circle cx="43.0" cy="409.9" r="3.7" fill="#f07f2a" stroke="#111" stroke-width="1.1"/>
<circle cx="43.0" cy="410.7" r="3.7" fill="#111111" stroke="#111" stroke-width="1.1"/>
<circle cx="43.0" cy="411.2" r="3.7" fill="#9a9a9a" stroke="#111" stroke-width="1.1"/>
<circle cx="43.0" cy="409.2" r="3.7" fill="#29a8e0" stroke="#111" stroke-width="1.1"/>
<circle cx="43.0" cy="407.7" r="3.7" fill="#0d2350" stroke="#111" stroke-width="1.1"/>
<circle cx="59.8" cy="404.3" r="3.7" fill="#7b2fa8" stroke="#111" stroke-width="1.1"/>
<circle cx="59.8" cy="405.2" r="3.7" fill="#f07f1e" stroke="#111" stroke-width="1.1"/>
<circle cx="59.8" cy="405.5" r="3.7" fill="#e8161e" stroke="#111" stroke-width="1.1"/>
<circle cx="59.8" cy="408.5" r="3.7" fill="#f0b41e" stroke="#111" stroke-width="1.1"/>
<circle cx="59.8" cy="403.7" r="3.7" fill="#8cc63f" stroke="#111" stroke-width="1.1"/>
<circle cx="59.8" cy="404.9" r="3.7" fill="#2e5e2a" stroke="#111" stroke-width="1.1"/>
<circle cx="59.8" cy="403.4" r="3.7" fill="#1f6fc0" stroke="#111" stroke-width="1.1"/>
<circle cx="59.8" cy="405.2" r="3.7" fill="#f07f2a" stroke="#111" stroke-width="1.1"/>
<circle cx="59.8" cy="406.1" r="3.7" fill="#111111" stroke="#111" stroke-width="1.1"/>
<circle cx="59.8" cy="406.7" r="3.7" fill="#9a9a9a" stroke="#111" stroke-width="1.1"/>
<circle cx="59.8" cy="404.3" r="3.7" fill="#29a8e0" stroke="#111" stroke-width="1.1"/>
<circle cx="59.8" cy="402.5" r="3.7" fill="#0d2350" stroke="#111" stroke-width="1.1"/>
<circle cx="76.6" cy="412.6" r="3.7" fill="#7b2fa8" stroke="#111" stroke-width="1.1"/>
<circle cx="76.6" cy="413.5" r="3.7" fill="#f07f1e" stroke="#111" stroke-width="1.1"/>
<circle cx="76.6" cy="413.8" r="3.7" fill="#e8161e" stroke="#111" stroke-width="1.1"/>
<circle cx="76.6" cy="416.5" r="3.7" fill="#f0b41e" stroke="#111" stroke-width="1.1"/>
<circle cx="76.6" cy="412.1" r="3.7" fill="#8cc63f" stroke="#111" stroke-width="1.1"/>
<circle cx="76.6" cy="413.2" r="3.7" fill="#2e5e2a" stroke="#111" stroke-width="1.1"/>
<circle cx="76.6" cy="411.8" r="3.7" fill="#1f6fc0" stroke="#111" stroke-width="1.1"/>
<circle cx="76.6" cy="413.5" r="3.7" fill="#f07f2a" stroke="#111" stroke-width="1.1"/>
<circle cx="76.6" cy="414.3" r="3.7" fill="#111111" stroke="#111" stroke-width="1.1"/>
<circle cx="76.6" cy="414.9" r="3.7" fill="#9a9a9a" stroke="#111" stroke-width="1.1"/>
<circle cx="76.6" cy="412.6" r="3.7" fill="#29a8e0" stroke="#111" stroke-width="1.1"/>
<circle cx="76.6" cy="411.0" r="3.7" fill="#0d2350" stroke="#111" stroke-width="1.1"/>
<circle cx="93.4" cy="413.9" r="3.7" fill="#7b2fa8" stroke="#111" stroke-width="1.1"/>
<circle cx="93.4" cy="414.5" r="3.7" fill="#f07f1e" stroke="#111" stroke-width="1.1"/>
<circle cx="93.4" cy="414.8" r="3.7" fill="#e8161e" stroke="#111" stroke-width="1.1"/>
<circle cx="93.4" cy="417.0" r="3.7" fill="#f0b41e" stroke="#111" stroke-width="1.1"/>
<circle cx="93.4" cy="413.4" r="3.7" fill="#8cc63f" stroke="#111" stroke-width="1.1"/>
<circle cx="93.4" cy="414.3" r="3.7" fill="#2e5e2a" stroke="#111" stroke-width="1.1"/>
<circle cx="93.4" cy="413.2" r="3.7" fill="#1f6fc0" stroke="#111" stroke-width="1.1"/>
<circle cx="93.4" cy="414.5" r="3.7" fill="#f07f2a" stroke="#111" stroke-width="1.1"/>
<circle cx="93.4" cy="415.2" r="3.7" fill="#111111" stroke="#111" stroke-width="1.1"/>
<circle cx="93.4" cy="415.6" r="3.7" fill="#9a9a9a" stroke="#111" stroke-width="1.1"/>
<circle cx="93.4" cy="413.9" r="3.7" fill="#29a8e0" stroke="#111" stroke-width="1.1"/>
<circle cx="93.4" cy="412.5" r="3.7" fill="#0d2350" stroke="#111" stroke-width="1.1"/>
<circle cx="110.2" cy="415.4" r="3.7" fill="#7b2fa8" stroke="#111" stroke-width="1.1"/>
<circle cx="110.2" cy="415.9" r="3.7" fill="#f07f1e" stroke="#111" stroke-width="1.1"/>
<circle cx="110.2" cy="416.0" r="3.7" fill="#e8161e" stroke="#111" stroke-width="1.1"/>
<circle cx="110.2" cy="417.5" r="3.7" fill="#f0b41e" stroke="#111" stroke-width="1.1"/>
<circle cx="110.2" cy="415.1" r="3.7" fill="#8cc63f" stroke="#111" stroke-width="1.1"/>
<circle cx="110.2" cy="415.7" r="3.7" fill="#2e5e2a" stroke="#111" stroke-width="1.1"/>
<circle cx="110.2" cy="414.9" r="3.7" fill="#1f6fc0" stroke="#111" stroke-width="1.1"/>
<circle cx="110.2" cy="415.9" r="3.7" fill="#f07f2a" stroke="#111" stroke-width="1.1"/>
<circle cx="110.2" cy="416.3" r="3.7" fill="#111111" stroke="#111" stroke-width="1.1"/>
<circle cx="110.2" cy="416.6" r="3.7" fill="#9a9a9a" stroke="#111" stroke-width="1.1"/>
<circle cx="110.2" cy="415.4" r="3.7" fill="#29a8e0" stroke="#111" stroke-width="1.1"/>
<circle cx="110.2" cy="414.5" r="3.7" fill="#0d2350" stroke="#111" stroke-width="1.1"/>
<circle cx="127.0" cy="414.6" r="3.7" fill="#7b2fa8" stroke="#111" stroke-width="1.1"/>
<circle cx="127.0" cy="415.5" r="3.7" fill="#f07f1e" stroke="#111" stroke-width="1.1"/>
<circle cx="127.0" cy="415.8" r="3.7" fill="#e8161e" stroke="#111" stroke-width="1.1"/>
<circle cx="127.0" cy="418.5" r="3.7" fill="#f0b41e" stroke="#111" stroke-width="1.1"/>
<circle cx="127.0" cy="414.1" r="3.7" fill="#8cc63f" stroke="#111" stroke-width="1.1"/>
<circle cx="127.0" cy="415.2" r="3.7" fill="#2e5e2a" stroke="#111" stroke-width="1.1"/>
<circle cx="127.0" cy="413.8" r="3.7" fill="#1f6fc0" stroke="#111" stroke-width="1.1"/>
<circle cx="127.0" cy="415.5" r="3.7" fill="#f07f2a" stroke="#111" stroke-width="1.1"/>
<circle cx="127.0" cy="416.3" r="3.7" fill="#111111" stroke="#111" stroke-width="1.1"/>
<circle cx="127.0" cy="416.9" r="3.7" fill="#9a9a9a" stroke="#111" stroke-width="1.1"/>
<circle cx="127.0" cy="414.6" r="3.7" fill="#29a8e0" stroke="#111" stroke-width="1.1"/>
<circle cx="127.0" cy="413.0" r="3.7" fill="#0d2350" stroke="#111" stroke-width="1.1"/>
<circle cx="143.8" cy="410.5" r="3.7" fill="#7b2fa8" stroke="#111" stroke-width="1.1"/>
<circle cx="143.8" cy="411.2" r="3.7" fill="#f07f1e" stroke="#111" stroke-width="1.1"/>
<circle cx="143.8" cy="411.5" r="3.7" fill="#e8161e" stroke="#111" stroke-width="1.1"/>
<circle cx="143.8" cy="412.0" r="3.7" fill="#f0b41e" stroke="#111" stroke-width="1.1"/>
<circle cx="143.8" cy="410.0" r="3.7" fill="#8cc63f" stroke="#111" stroke-width="1.1"/>
<circle cx="143.8" cy="411.0" r="3.7" fill="#2e5e2a" stroke="#111" stroke-width="1.1"/>
<circle cx="143.8" cy="409.8" r="3.7" fill="#1f6fc0" stroke="#111" stroke-width="1.1"/>
<circle cx="143.8" cy="411.2" r="3.7" fill="#f07f2a" stroke="#111" stroke-width="1.1"/>
<circle cx="143.8" cy="414.0" r="3.7" fill="#111111" stroke="#111" stroke-width="1.1"/>
<circle cx="143.8" cy="412.5" r="3.7" fill="#9a9a9a" stroke="#111" stroke-width="1.1"/>
<circle cx="143.8" cy="410.5" r="3.7" fill="#29a8e0" stroke="#111" stroke-width="1.1"/>
<circle cx="143.8" cy="409.0" r="3.7" fill="#0d2350" stroke="#111" stroke-width="1.1"/>
<circle cx="160.6" cy="407.9" r="3.7" fill="#7b2fa8" stroke="#111" stroke-width="1.1"/>
<circle cx="160.6" cy="408.6" r="3.7" fill="#f07f1e" stroke="#111" stroke-width="1.1"/>
<circle cx="160.6" cy="408.9" r="3.7" fill="#e8161e" stroke="#111" stroke-width="1.1"/>
<circle cx="160.6" cy="409.4" r="3.7" fill="#f0b41e" stroke="#111" stroke-width="1.1"/>
<circle cx="160.6" cy="407.4" r="3.7" fill="#8cc63f" stroke="#111" stroke-width="1.1"/>
<circle cx="160.6" cy="408.4" r="3.7" fill="#2e5e2a" stroke="#111" stroke-width="1.1"/>
<circle cx="160.6" cy="407.1" r="3.7" fill="#1f6fc0" stroke="#111" stroke-width="1.1"/>
<circle cx="160.6" cy="408.6" r="3.7" fill="#f07f2a" stroke="#111" stroke-width="1.1"/>
<circle cx="160.6" cy="411.4" r="3.7" fill="#111111" stroke="#111" stroke-width="1.1"/>
<circle cx="160.6" cy="409.9" r="3.7" fill="#9a9a9a" stroke="#111" stroke-width="1.1"/>
<circle cx="160.6" cy="407.9" r="3.7" fill="#29a8e0" stroke="#111" stroke-width="1.1"/>
<circle cx="160.6" cy="406.4" r="3.7" fill="#0d2350" stroke="#111" stroke-width="1.1"/>
<circle cx="177.4" cy="403.9" r="3.7" fill="#7b2fa8" stroke="#111" stroke-width="1.1"/>
<circle cx="177.4" cy="404.6" r="3.7" fill="#f07f1e" stroke="#111" stroke-width="1.1"/>
<circle cx="177.4" cy="404.9" r="3.7" fill="#e8161e" stroke="#111" stroke-width="1.1"/>
<circle cx="177.4" cy="405.4" r="3.7" fill="#f0b41e" stroke="#111" stroke-width="1.1"/>
<circle cx="177.4" cy="403.4" r="3.7" fill="#8cc63f" stroke="#111" stroke-width="1.1"/>
<circle cx="177.4" cy="404.4" r="3.7" fill="#2e5e2a" stroke="#111" stroke-width="1.1"/>
<circle cx="177.4" cy="403.1" r="3.7" fill="#1f6fc0" stroke="#111" stroke-width="1.1"/>
<circle cx="177.4" cy="404.6" r="3.7" fill="#f07f2a" stroke="#111" stroke-width="1.1"/>
<circle cx="177.4" cy="407.4" r="3.7" fill="#111111" stroke="#111" stroke-width="1.1"/>
<circle cx="177.4" cy="405.9" r="3.7" fill="#9a9a9a" stroke="#111" stroke-width="1.1"/>
<circle cx="177.4" cy="403.9" r="3.7" fill="#29a8e0" stroke="#111" stroke-width="1.1"/>
<circle cx="177.4" cy="402.4" r="3.7" fill="#0d2350" stroke="#111" stroke-width="1.1"/>
<circle cx="194.2" cy="403.8" r="3.7" fill="#7b2fa8" stroke="#111" stroke-width="1.1"/>
<circle cx="194.2" cy="404.4" r="3.7" fill="#f07f1e" stroke="#111" stroke-width="1.1"/>
<circle cx="194.2" cy="404.6" r="3.7" fill="#e8161e" stroke="#111" stroke-width="1.1"/>
<circle cx="194.2" cy="405.1" r="3.7" fill="#f0b41e" stroke="#111" stroke-width="1.1"/>
<circle cx="194.2" cy="403.3" r="3.7" fill="#8cc63f" stroke="#111" stroke-width="1.1"/>
<circle cx="194.2" cy="404.2" r="3.7" fill="#2e5e2a" stroke="#111" stroke-width="1.1"/>
<circle cx="194.2" cy="403.1" r="3.7" fill="#1f6fc0" stroke="#111" stroke-width="1.1"/>
<circle cx="194.2" cy="404.4" r="3.7" fill="#f07f2a" stroke="#111" stroke-width="1.1"/>
<circle cx="194.2" cy="406.9" r="3.7" fill="#111111" stroke="#111" stroke-width="1.1"/>
<circle cx="194.2" cy="405.5" r="3.7" fill="#9a9a9a" stroke="#111" stroke-width="1.1"/>
<circle cx="194.2" cy="403.8" r="3.7" fill="#29a8e0" stroke="#111" stroke-width="1.1"/>
<circle cx="194.2" cy="402.4" r="3.7" fill="#0d2350" stroke="#111" stroke-width="1.1"/>
<circle cx="211.0" cy="401.8" r="3.7" fill="#7b2fa8" stroke="#111" stroke-width="1.1"/>
<circle cx="211.0" cy="402.4" r="3.7" fill="#f07f1e" stroke="#111" stroke-width="1.1"/>
<circle cx="211.0" cy="402.6" r="3.7" fill="#e8161e" stroke="#111" stroke-width="1.1"/>
<circle cx="211.0" cy="403.0" r="3.7" fill="#f0b41e" stroke="#111" stroke-width="1.1"/>
<circle cx="211.0" cy="401.4" r="3.7" fill="#8cc63f" stroke="#111" stroke-width="1.1"/>
<circle cx="211.0" cy="402.2" r="3.7" fill="#2e5e2a" stroke="#111" stroke-width="1.1"/>
<circle cx="211.0" cy="401.2" r="3.7" fill="#1f6fc0" stroke="#111" stroke-width="1.1"/>
<circle cx="211.0" cy="402.4" r="3.7" fill="#f07f2a" stroke="#111" stroke-width="1.1"/>
<circle cx="211.0" cy="404.6" r="3.7" fill="#111111" stroke="#111" stroke-width="1.1"/>
<circle cx="211.0" cy="403.4" r="3.7" fill="#9a9a9a" stroke="#111" stroke-width="1.1"/>
<circle cx="211.0" cy="401.8" r="3.7" fill="#29a8e0" stroke="#111" stroke-width="1.1"/>
<circle cx="211.0" cy="400.6" r="3.7" fill="#0d2350" stroke="#111" stroke-width="1.1"/>
<circle cx="227.8" cy="401.0" r="3.7" fill="#7b2fa8" stroke="#111" stroke-width="1.1"/>
<circle cx="227.8" cy="401.6" r="3.7" fill="#f07f1e" stroke="#111" stroke-width="1.1"/>
<circle cx="227.8" cy="401.8" r="3.7" fill="#e8161e" stroke="#111" stroke-width="1.1"/>
<circle cx="227.8" cy="402.2" r="3.7" fill="#f0b41e" stroke="#111" stroke-width="1.1"/>
<circle cx="227.8" cy="400.6" r="3.7" fill="#8cc63f" stroke="#111" stroke-width="1.1"/>
<circle cx="227.8" cy="401.4" r="3.7" fill="#2e5e2a" stroke="#111" stroke-width="1.1"/>
<circle cx="227.8" cy="400.4" r="3.7" fill="#1f6fc0" stroke="#111" stroke-width="1.1"/>
<circle cx="227.8" cy="401.6" r="3.7" fill="#f07f2a" stroke="#111" stroke-width="1.1"/>
<circle cx="227.8" cy="403.8" r="3.7" fill="#111111" stroke="#111" stroke-width="1.1"/>
<circle cx="227.8" cy="402.6" r="3.7" fill="#9a9a9a" stroke="#111" stroke-width="1.1"/>
<circle cx="227.8" cy="401.0" r="3.7" fill="#29a8e0" stroke="#111" stroke-width="1.1"/>
<circle cx="227.8" cy="399.8" r="3.7" fill="#0d2350" stroke="#111" stroke-width="1.1"/>
<circle cx="244.6" cy="399.2" r="3.7" fill="#7b2fa8" stroke="#111" stroke-width="1.1"/>
<circle cx="244.6" cy="399.8" r="3.7" fill="#f07f1e" stroke="#111" stroke-width="1.1"/>
<circle cx="244.6" cy="400.0" r="3.7" fill="#e8161e" stroke="#111" stroke-width="1.1"/>
<circle cx="244.6" cy="400.4" r="3.7" fill="#f0b41e" stroke="#111" stroke-width="1.1"/>
<circle cx="244.6" cy="398.8" r="3.7" fill="#8cc63f" stroke="#111" stroke-width="1.1"/>
<circle cx="244.6" cy="399.6" r="3.7" fill="#2e5e2a" stroke="#111" stroke-width="1.1"/>
<circle cx="244.6" cy="398.6" r="3.7" fill="#1f6fc0" stroke="#111" stroke-width="1.1"/>
<circle cx="244.6" cy="399.8" r="3.7" fill="#f07f2a" stroke="#111" stroke-width="1.1"/>
<circle cx="244.6" cy="402.0" r="3.7" fill="#111111" stroke="#111" stroke-width="1.1"/>
<circle cx="244.6" cy="400.8" r="3.7" fill="#9a9a9a" stroke="#111" stroke-width="1.1"/>
<circle cx="244.6" cy="399.2" r="3.7" fill="#29a8e0" stroke="#111" stroke-width="1.1"/>
<circle cx="244.6" cy="398.0" r="3.7" fill="#0d2350" stroke="#111" stroke-width="1.1"/>
<circle cx="261.4" cy="398.2" r="3.7" fill="#7b2fa8" stroke="#111" stroke-width="1.1"/>
<circle cx="261.4" cy="398.7" r="3.7" fill="#f07f1e" stroke="#111" stroke-width="1.1"/>
<circle cx="261.4" cy="398.9" r="3.7" fill="#e8161e" stroke="#111" stroke-width="1.1"/>
<circle cx="261.4" cy="399.2" r="3.7" fill="#f0b41e" stroke="#111" stroke-width="1.1"/>
<circle cx="261.4" cy="397.8" r="3.7" fill="#8cc63f" stroke="#111" stroke-width="1.1"/>
<circle cx="261.4" cy="398.5" r="3.7" fill="#2e5e2a" stroke="#111" stroke-width="1.1"/>
<circle cx="261.4" cy="397.6" r="3.7" fill="#1f6fc0" stroke="#111" stroke-width="1.1"/>
<circle cx="261.4" cy="398.7" r="3.7" fill="#f07f2a" stroke="#111" stroke-width="1.1"/>
<circle cx="261.4" cy="400.6" r="3.7" fill="#111111" stroke="#111" stroke-width="1.1"/>
<circle cx="261.4" cy="399.6" r="3.7" fill="#9a9a9a" stroke="#111" stroke-width="1.1"/>
<circle cx="261.4" cy="398.2" r="3.7" fill="#29a8e0" stroke="#111" stroke-width="1.1"/>
<circle cx="261.4" cy="397.1" r="3.7" fill="#0d2350" stroke="#111" stroke-width="1.1"/>
<text x="45.5" y="355.6" font-size="15" style="stroke:none">E</text>
<text x="140" y="343.4" font-size="12.5" font-weight="bold" style="stroke-width:0.1px">Profile 2</text>
<path d="M301.6,332.8 V444.1 H541.3" fill="none" stroke="#3a3a3a" stroke-width="1.5"/>
<line x1="298.6" y1="332.8" x2="301.6" y2="332.8" stroke="#3a3a3a" stroke-width="1.2"/>
<text x="296.6" y="335.4" text-anchor="end" font-size="8.5">100</text>
<line x1="298.6" y1="369.9" x2="301.6" y2="369.9" stroke="#3a3a3a" stroke-width="1.2"/>
<text x="296.6" y="372.5" text-anchor="end" font-size="8.5">10</text>
<line x1="298.6" y1="407.0" x2="301.6" y2="407.0" stroke="#3a3a3a" stroke-width="1.2"/>
<text x="296.6" y="409.6" text-anchor="end" font-size="8.5">1</text>
<line x1="298.6" y1="444.1" x2="301.6" y2="444.1" stroke="#3a3a3a" stroke-width="1.2"/>
<text x="296.6" y="446.7" text-anchor="end" font-size="8.5">0.1</text>
<line x1="318.7" y1="444.1" x2="318.7" y2="446.6" stroke="#3a3a3a" stroke-width="1.2"/>
<line x1="335.8" y1="444.1" x2="335.8" y2="446.6" stroke="#3a3a3a" stroke-width="1.2"/>
<line x1="353.0" y1="444.1" x2="353.0" y2="446.6" stroke="#3a3a3a" stroke-width="1.2"/>
<line x1="370.1" y1="444.1" x2="370.1" y2="446.6" stroke="#3a3a3a" stroke-width="1.2"/>
<line x1="387.2" y1="444.1" x2="387.2" y2="446.6" stroke="#3a3a3a" stroke-width="1.2"/>
<line x1="404.3" y1="444.1" x2="404.3" y2="446.6" stroke="#3a3a3a" stroke-width="1.2"/>
<line x1="421.4" y1="444.1" x2="421.4" y2="446.6" stroke="#3a3a3a" stroke-width="1.2"/>
<line x1="438.6" y1="444.1" x2="438.6" y2="446.6" stroke="#3a3a3a" stroke-width="1.2"/>
<line x1="455.7" y1="444.1" x2="455.7" y2="446.6" stroke="#3a3a3a" stroke-width="1.2"/>
<line x1="472.8" y1="444.1" x2="472.8" y2="446.6" stroke="#3a3a3a" stroke-width="1.2"/>
<line x1="489.9" y1="444.1" x2="489.9" y2="446.6" stroke="#3a3a3a" stroke-width="1.2"/>
<line x1="507.1" y1="444.1" x2="507.1" y2="446.6" stroke="#3a3a3a" stroke-width="1.2"/>
<line x1="524.2" y1="444.1" x2="524.2" y2="446.6" stroke="#3a3a3a" stroke-width="1.2"/>
<line x1="541.3" y1="444.1" x2="541.3" y2="446.6" stroke="#3a3a3a" stroke-width="1.2"/>
<text x="310.2" y="455.6" text-anchor="middle" font-size="9">La</text>
<text x="327.3" y="455.6" text-anchor="middle" font-size="9">Ce</text>
<text x="344.4" y="455.6" text-anchor="middle" font-size="9">Pr</text>
<text x="361.5" y="455.6" text-anchor="middle" font-size="9">Nd</text>
<text x="378.6" y="455.6" text-anchor="middle" font-size="9">Sm</text>
<text x="395.8" y="455.6" text-anchor="middle" font-size="9">Eu</text>
<text x="412.9" y="455.6" text-anchor="middle" font-size="9">Gd</text>
<text x="430.0" y="455.6" text-anchor="middle" font-size="9">Tb</text>
<text x="447.1" y="455.6" text-anchor="middle" font-size="9">Dy</text>
<text x="464.3" y="455.6" text-anchor="middle" font-size="9">Ho</text>
<text x="481.4" y="455.6" text-anchor="middle" font-size="9">Er</text>
<text x="498.5" y="455.6" text-anchor="middle" font-size="9">Tm</text>
<text x="515.6" y="455.6" text-anchor="middle" font-size="9">Yb</text>
<text x="532.7" y="455.6" text-anchor="middle" font-size="9">Lu</text>
<text transform="translate(284.7,393.2) rotate(-90)" text-anchor="middle" font-size="10.8">Sample/Sandstone</text>
<path d="M310.2,381.4 L327.3,373.8 L344.4,384.7 L361.5,384.7 L378.6,391.3 L395.8,394.5 L412.9,389.3 L430.0,389.1 L447.1,385.0 L464.3,384.2 L481.4,383.1 L498.5,383.6 L515.6,379.5 L532.7,380.8" fill="none" stroke="#9a70c0" stroke-width="1.4" stroke-linejoin="round"/>
<path d="M310.2,382.2 L327.3,374.6 L344.4,385.5 L361.5,385.5 L378.6,392.1 L395.8,395.3 L412.9,390.1 L430.0,389.9 L447.1,385.8 L464.3,385.0 L481.4,383.9 L498.5,384.4 L515.6,380.3 L532.7,381.6" fill="none" stroke="#f08a3a" stroke-width="1.4" stroke-linejoin="round"/>
<path d="M310.2,382.9 L327.3,375.3 L344.4,386.2 L361.5,386.2 L378.6,392.8 L395.8,396.0 L412.9,390.8 L430.0,390.6 L447.1,386.5 L464.3,385.7 L481.4,384.6 L498.5,385.1 L515.6,381.0 L532.7,382.3" fill="none" stroke="#e84a4a" stroke-width="1.4" stroke-linejoin="round"/>
<path d="M310.2,381.8 L327.3,374.2 L344.4,385.1 L361.5,385.1 L378.6,391.7 L395.8,394.9 L412.9,389.7 L430.0,389.5 L447.1,385.4 L464.3,384.6 L481.4,383.5 L498.5,384.0 L515.6,379.9 L532.7,381.2" fill="none" stroke="#f0c030" stroke-width="1.4" stroke-linejoin="round"/>
<path d="M310.2,381.0 L327.3,373.4 L344.4,384.3 L361.5,384.3 L378.6,390.9 L395.8,394.1 L412.9,388.9 L430.0,388.7 L447.1,384.6 L464.3,383.8 L481.4,382.7 L498.5,383.2 L515.6,379.1 L532.7,380.4" fill="none" stroke="#a8d878" stroke-width="1.4" stroke-linejoin="round"/>
<path d="M310.2,381.6 L327.3,374.0 L344.4,384.9 L361.5,384.9 L378.6,391.5 L395.8,394.7 L412.9,389.5 L430.0,389.3 L447.1,385.2 L464.3,384.4 L481.4,383.3 L498.5,383.8 L515.6,379.7 L532.7,381.0" fill="none" stroke="#5a8a50" stroke-width="1.4" stroke-linejoin="round"/>
<path d="M310.2,380.3 L327.3,372.7 L344.4,383.6 L361.5,383.6 L378.6,390.2 L395.8,393.4 L412.9,388.2 L430.0,388.0 L447.1,383.9 L464.3,383.1 L481.4,382.0 L498.5,382.5 L515.6,378.4 L532.7,379.7" fill="none" stroke="#3a78d0" stroke-width="1.4" stroke-linejoin="round"/>
<path d="M310.2,382.2 L327.3,374.6 L344.4,385.5 L361.5,385.5 L378.6,392.1 L395.8,395.3 L412.9,390.1 L430.0,389.9 L447.1,385.8 L464.3,385.0 L481.4,383.9 L498.5,384.4 L515.6,380.3 L532.7,381.6" fill="none" stroke="#f09040" stroke-width="1.4" stroke-linejoin="round"/>
<path d="M310.2,382.6 L327.3,375.0 L344.4,385.9 L361.5,385.9 L378.6,392.5 L395.8,395.7 L412.9,390.5 L430.0,390.3 L447.1,386.2 L464.3,385.4 L481.4,384.3 L498.5,384.8 L515.6,380.7 L532.7,382.0" fill="none" stroke="#555555" stroke-width="1.4" stroke-linejoin="round"/>
<path d="M310.2,382.0 L327.3,374.4 L344.4,385.3 L361.5,385.3 L378.6,391.9 L395.8,395.1 L412.9,389.9 L430.0,389.7 L447.1,385.6 L464.3,384.8 L481.4,383.7 L498.5,384.2 L515.6,380.1 L532.7,381.4" fill="none" stroke="#c8c8c8" stroke-width="1.4" stroke-linejoin="round"/>
<path d="M310.2,380.6 L327.3,373.0 L344.4,383.9 L361.5,383.9 L378.6,390.5 L395.8,393.7 L412.9,388.5 L430.0,388.3 L447.1,384.2 L464.3,383.4 L481.4,382.3 L498.5,382.8 L515.6,378.7 L532.7,380.0" fill="none" stroke="#5ab8e8" stroke-width="1.4" stroke-linejoin="round"/>
<path d="M310.2,379.6 L327.3,372.0 L344.4,382.9 L361.5,382.9 L378.6,389.5 L395.8,392.7 L412.9,387.5 L430.0,387.3 L447.1,383.2 L464.3,382.4 L481.4,381.3 L498.5,381.8 L515.6,377.7 L532.7,379.0" fill="none" stroke="#1e3364" stroke-width="1.4" stroke-linejoin="round"/>
<circle cx="310.2" cy="381.1" r="3.7" fill="#7b2fa8" stroke="#111" stroke-width="1.1"/>
<circle cx="310.2" cy="381.9" r="3.7" fill="#f07f1e" stroke="#111" stroke-width="1.1"/>
<circle cx="310.2" cy="382.1" r="3.7" fill="#e8161e" stroke="#111" stroke-width="1.1"/>
<circle cx="310.2" cy="384.6" r="3.7" fill="#f0b41e" stroke="#111" stroke-width="1.1"/>
<circle cx="310.2" cy="380.6" r="3.7" fill="#8cc63f" stroke="#111" stroke-width="1.1"/>
<circle cx="310.2" cy="381.6" r="3.7" fill="#2e5e2a" stroke="#111" stroke-width="1.1"/>
<circle cx="310.2" cy="380.4" r="3.7" fill="#1f6fc0" stroke="#111" stroke-width="1.1"/>
<circle cx="310.2" cy="381.9" r="3.7" fill="#f07f2a" stroke="#111" stroke-width="1.1"/>
<circle cx="310.2" cy="382.6" r="3.7" fill="#111111" stroke="#111" stroke-width="1.1"/>
<circle cx="310.2" cy="383.1" r="3.7" fill="#9a9a9a" stroke="#111" stroke-width="1.1"/>
<circle cx="310.2" cy="381.1" r="3.7" fill="#29a8e0" stroke="#111" stroke-width="1.1"/>
<circle cx="310.2" cy="379.6" r="3.7" fill="#0d2350" stroke="#111" stroke-width="1.1"/>
<circle cx="327.3" cy="373.8" r="3.7" fill="#7b2fa8" stroke="#111" stroke-width="1.1"/>
<circle cx="327.3" cy="374.7" r="3.7" fill="#f07f1e" stroke="#111" stroke-width="1.1"/>
<circle cx="327.3" cy="375.0" r="3.7" fill="#e8161e" stroke="#111" stroke-width="1.1"/>
<circle cx="327.3" cy="378.0" r="3.7" fill="#f0b41e" stroke="#111" stroke-width="1.1"/>
<circle cx="327.3" cy="373.2" r="3.7" fill="#8cc63f" stroke="#111" stroke-width="1.1"/>
<circle cx="327.3" cy="374.4" r="3.7" fill="#2e5e2a" stroke="#111" stroke-width="1.1"/>
<circle cx="327.3" cy="372.9" r="3.7" fill="#1f6fc0" stroke="#111" stroke-width="1.1"/>
<circle cx="327.3" cy="374.7" r="3.7" fill="#f07f2a" stroke="#111" stroke-width="1.1"/>
<circle cx="327.3" cy="375.6" r="3.7" fill="#111111" stroke="#111" stroke-width="1.1"/>
<circle cx="327.3" cy="376.2" r="3.7" fill="#9a9a9a" stroke="#111" stroke-width="1.1"/>
<circle cx="327.3" cy="373.8" r="3.7" fill="#29a8e0" stroke="#111" stroke-width="1.1"/>
<circle cx="327.3" cy="372.0" r="3.7" fill="#0d2350" stroke="#111" stroke-width="1.1"/>
<circle cx="344.4" cy="384.5" r="3.7" fill="#7b2fa8" stroke="#111" stroke-width="1.1"/>
<circle cx="344.4" cy="385.4" r="3.7" fill="#f07f1e" stroke="#111" stroke-width="1.1"/>
<circle cx="344.4" cy="385.6" r="3.7" fill="#e8161e" stroke="#111" stroke-width="1.1"/>
<circle cx="344.4" cy="388.4" r="3.7" fill="#f0b41e" stroke="#111" stroke-width="1.1"/>
<circle cx="344.4" cy="384.0" r="3.7" fill="#8cc63f" stroke="#111" stroke-width="1.1"/>
<circle cx="344.4" cy="385.1" r="3.7" fill="#2e5e2a" stroke="#111" stroke-width="1.1"/>
<circle cx="344.4" cy="383.7" r="3.7" fill="#1f6fc0" stroke="#111" stroke-width="1.1"/>
<circle cx="344.4" cy="385.4" r="3.7" fill="#f07f2a" stroke="#111" stroke-width="1.1"/>
<circle cx="344.4" cy="386.2" r="3.7" fill="#111111" stroke="#111" stroke-width="1.1"/>
<circle cx="344.4" cy="386.8" r="3.7" fill="#9a9a9a" stroke="#111" stroke-width="1.1"/>
<circle cx="344.4" cy="384.5" r="3.7" fill="#29a8e0" stroke="#111" stroke-width="1.1"/>
<circle cx="344.4" cy="382.9" r="3.7" fill="#0d2350" stroke="#111" stroke-width="1.1"/>
<circle cx="361.5" cy="384.5" r="3.7" fill="#7b2fa8" stroke="#111" stroke-width="1.1"/>
<circle cx="361.5" cy="385.4" r="3.7" fill="#f07f1e" stroke="#111" stroke-width="1.1"/>
<circle cx="361.5" cy="385.6" r="3.7" fill="#e8161e" stroke="#111" stroke-width="1.1"/>
<circle cx="361.5" cy="388.4" r="3.7" fill="#f0b41e" stroke="#111" stroke-width="1.1"/>
<circle cx="361.5" cy="384.0" r="3.7" fill="#8cc63f" stroke="#111" stroke-width="1.1"/>
<circle cx="361.5" cy="385.1" r="3.7" fill="#2e5e2a" stroke="#111" stroke-width="1.1"/>
<circle cx="361.5" cy="383.7" r="3.7" fill="#1f6fc0" stroke="#111" stroke-width="1.1"/>
<circle cx="361.5" cy="385.4" r="3.7" fill="#f07f2a" stroke="#111" stroke-width="1.1"/>
<circle cx="361.5" cy="386.2" r="3.7" fill="#111111" stroke="#111" stroke-width="1.1"/>
<circle cx="361.5" cy="386.8" r="3.7" fill="#9a9a9a" stroke="#111" stroke-width="1.1"/>
<circle cx="361.5" cy="384.5" r="3.7" fill="#29a8e0" stroke="#111" stroke-width="1.1"/>
<circle cx="361.5" cy="382.9" r="3.7" fill="#0d2350" stroke="#111" stroke-width="1.1"/>
<circle cx="378.6" cy="391.0" r="3.7" fill="#7b2fa8" stroke="#111" stroke-width="1.1"/>
<circle cx="378.6" cy="391.8" r="3.7" fill="#f07f1e" stroke="#111" stroke-width="1.1"/>
<circle cx="378.6" cy="392.0" r="3.7" fill="#e8161e" stroke="#111" stroke-width="1.1"/>
<circle cx="378.6" cy="394.5" r="3.7" fill="#f0b41e" stroke="#111" stroke-width="1.1"/>
<circle cx="378.6" cy="390.5" r="3.7" fill="#8cc63f" stroke="#111" stroke-width="1.1"/>
<circle cx="378.6" cy="391.5" r="3.7" fill="#2e5e2a" stroke="#111" stroke-width="1.1"/>
<circle cx="378.6" cy="390.2" r="3.7" fill="#1f6fc0" stroke="#111" stroke-width="1.1"/>
<circle cx="378.6" cy="391.8" r="3.7" fill="#f07f2a" stroke="#111" stroke-width="1.1"/>
<circle cx="378.6" cy="392.5" r="3.7" fill="#111111" stroke="#111" stroke-width="1.1"/>
<circle cx="378.6" cy="393.0" r="3.7" fill="#9a9a9a" stroke="#111" stroke-width="1.1"/>
<circle cx="378.6" cy="391.0" r="3.7" fill="#29a8e0" stroke="#111" stroke-width="1.1"/>
<circle cx="378.6" cy="389.5" r="3.7" fill="#0d2350" stroke="#111" stroke-width="1.1"/>
<circle cx="395.8" cy="394.5" r="3.7" fill="#7b2fa8" stroke="#111" stroke-width="1.1"/>
<circle cx="395.8" cy="395.4" r="3.7" fill="#f07f1e" stroke="#111" stroke-width="1.1"/>
<circle cx="395.8" cy="395.7" r="3.7" fill="#e8161e" stroke="#111" stroke-width="1.1"/>
<circle cx="395.8" cy="398.7" r="3.7" fill="#f0b41e" stroke="#111" stroke-width="1.1"/>
<circle cx="395.8" cy="393.9" r="3.7" fill="#8cc63f" stroke="#111" stroke-width="1.1"/>
<circle cx="395.8" cy="395.1" r="3.7" fill="#2e5e2a" stroke="#111" stroke-width="1.1"/>
<circle cx="395.8" cy="393.6" r="3.7" fill="#1f6fc0" stroke="#111" stroke-width="1.1"/>
<circle cx="395.8" cy="395.4" r="3.7" fill="#f07f2a" stroke="#111" stroke-width="1.1"/>
<circle cx="395.8" cy="396.3" r="3.7" fill="#111111" stroke="#111" stroke-width="1.1"/>
<circle cx="395.8" cy="396.9" r="3.7" fill="#9a9a9a" stroke="#111" stroke-width="1.1"/>
<circle cx="395.8" cy="394.5" r="3.7" fill="#29a8e0" stroke="#111" stroke-width="1.1"/>
<circle cx="395.8" cy="392.7" r="3.7" fill="#0d2350" stroke="#111" stroke-width="1.1"/>
<circle cx="412.9" cy="389.0" r="3.7" fill="#7b2fa8" stroke="#111" stroke-width="1.1"/>
<circle cx="412.9" cy="389.8" r="3.7" fill="#f07f1e" stroke="#111" stroke-width="1.1"/>
<circle cx="412.9" cy="390.0" r="3.7" fill="#e8161e" stroke="#111" stroke-width="1.1"/>
<circle cx="412.9" cy="390.5" r="3.7" fill="#f0b41e" stroke="#111" stroke-width="1.1"/>
<circle cx="412.9" cy="388.5" r="3.7" fill="#8cc63f" stroke="#111" stroke-width="1.1"/>
<circle cx="412.9" cy="389.5" r="3.7" fill="#2e5e2a" stroke="#111" stroke-width="1.1"/>
<circle cx="412.9" cy="388.2" r="3.7" fill="#1f6fc0" stroke="#111" stroke-width="1.1"/>
<circle cx="412.9" cy="389.8" r="3.7" fill="#f07f2a" stroke="#111" stroke-width="1.1"/>
<circle cx="412.9" cy="392.5" r="3.7" fill="#111111" stroke="#111" stroke-width="1.1"/>
<circle cx="412.9" cy="391.0" r="3.7" fill="#9a9a9a" stroke="#111" stroke-width="1.1"/>
<circle cx="412.9" cy="389.0" r="3.7" fill="#29a8e0" stroke="#111" stroke-width="1.1"/>
<circle cx="412.9" cy="387.5" r="3.7" fill="#0d2350" stroke="#111" stroke-width="1.1"/>
<circle cx="430.0" cy="388.8" r="3.7" fill="#7b2fa8" stroke="#111" stroke-width="1.1"/>
<circle cx="430.0" cy="389.6" r="3.7" fill="#f07f1e" stroke="#111" stroke-width="1.1"/>
<circle cx="430.0" cy="389.8" r="3.7" fill="#e8161e" stroke="#111" stroke-width="1.1"/>
<circle cx="430.0" cy="390.3" r="3.7" fill="#f0b41e" stroke="#111" stroke-width="1.1"/>
<circle cx="430.0" cy="388.3" r="3.7" fill="#8cc63f" stroke="#111" stroke-width="1.1"/>
<circle cx="430.0" cy="389.3" r="3.7" fill="#2e5e2a" stroke="#111" stroke-width="1.1"/>
<circle cx="430.0" cy="388.1" r="3.7" fill="#1f6fc0" stroke="#111" stroke-width="1.1"/>
<circle cx="430.0" cy="389.6" r="3.7" fill="#f07f2a" stroke="#111" stroke-width="1.1"/>
<circle cx="430.0" cy="392.3" r="3.7" fill="#111111" stroke="#111" stroke-width="1.1"/>
<circle cx="430.0" cy="390.8" r="3.7" fill="#9a9a9a" stroke="#111" stroke-width="1.1"/>
<circle cx="430.0" cy="388.8" r="3.7" fill="#29a8e0" stroke="#111" stroke-width="1.1"/>
<circle cx="430.0" cy="387.3" r="3.7" fill="#0d2350" stroke="#111" stroke-width="1.1"/>
<circle cx="447.1" cy="384.6" r="3.7" fill="#7b2fa8" stroke="#111" stroke-width="1.1"/>
<circle cx="447.1" cy="385.2" r="3.7" fill="#f07f1e" stroke="#111" stroke-width="1.1"/>
<circle cx="447.1" cy="385.4" r="3.7" fill="#e8161e" stroke="#111" stroke-width="1.1"/>
<circle cx="447.1" cy="385.9" r="3.7" fill="#f0b41e" stroke="#111" stroke-width="1.1"/>
<circle cx="447.1" cy="384.1" r="3.7" fill="#8cc63f" stroke="#111" stroke-width="1.1"/>
<circle cx="447.1" cy="385.0" r="3.7" fill="#2e5e2a" stroke="#111" stroke-width="1.1"/>
<circle cx="447.1" cy="383.9" r="3.7" fill="#1f6fc0" stroke="#111" stroke-width="1.1"/>
<circle cx="447.1" cy="385.2" r="3.7" fill="#f07f2a" stroke="#111" stroke-width="1.1"/>
<circle cx="447.1" cy="387.7" r="3.7" fill="#111111" stroke="#111" stroke-width="1.1"/>
<circle cx="447.1" cy="386.3" r="3.7" fill="#9a9a9a" stroke="#111" stroke-width="1.1"/>
<circle cx="447.1" cy="384.6" r="3.7" fill="#29a8e0" stroke="#111" stroke-width="1.1"/>
<circle cx="447.1" cy="383.2" r="3.7" fill="#0d2350" stroke="#111" stroke-width="1.1"/>
<circle cx="464.3" cy="383.8" r="3.7" fill="#7b2fa8" stroke="#111" stroke-width="1.1"/>
<circle cx="464.3" cy="384.4" r="3.7" fill="#f07f1e" stroke="#111" stroke-width="1.1"/>
<circle cx="464.3" cy="384.6" r="3.7" fill="#e8161e" stroke="#111" stroke-width="1.1"/>
<circle cx="464.3" cy="385.1" r="3.7" fill="#f0b41e" stroke="#111" stroke-width="1.1"/>
<circle cx="464.3" cy="383.3" r="3.7" fill="#8cc63f" stroke="#111" stroke-width="1.1"/>
<circle cx="464.3" cy="384.2" r="3.7" fill="#2e5e2a" stroke="#111" stroke-width="1.1"/>
<circle cx="464.3" cy="383.1" r="3.7" fill="#1f6fc0" stroke="#111" stroke-width="1.1"/>
<circle cx="464.3" cy="384.4" r="3.7" fill="#f07f2a" stroke="#111" stroke-width="1.1"/>
<circle cx="464.3" cy="386.9" r="3.7" fill="#111111" stroke="#111" stroke-width="1.1"/>
<circle cx="464.3" cy="385.5" r="3.7" fill="#9a9a9a" stroke="#111" stroke-width="1.1"/>
<circle cx="464.3" cy="383.8" r="3.7" fill="#29a8e0" stroke="#111" stroke-width="1.1"/>
<circle cx="464.3" cy="382.4" r="3.7" fill="#0d2350" stroke="#111" stroke-width="1.1"/>
<circle cx="481.4" cy="382.5" r="3.7" fill="#7b2fa8" stroke="#111" stroke-width="1.1"/>
<circle cx="481.4" cy="383.1" r="3.7" fill="#f07f1e" stroke="#111" stroke-width="1.1"/>
<circle cx="481.4" cy="383.3" r="3.7" fill="#e8161e" stroke="#111" stroke-width="1.1"/>
<circle cx="481.4" cy="383.7" r="3.7" fill="#f0b41e" stroke="#111" stroke-width="1.1"/>
<circle cx="481.4" cy="382.1" r="3.7" fill="#8cc63f" stroke="#111" stroke-width="1.1"/>
<circle cx="481.4" cy="382.9" r="3.7" fill="#2e5e2a" stroke="#111" stroke-width="1.1"/>
<circle cx="481.4" cy="381.9" r="3.7" fill="#1f6fc0" stroke="#111" stroke-width="1.1"/>
<circle cx="481.4" cy="383.1" r="3.7" fill="#f07f2a" stroke="#111" stroke-width="1.1"/>
<circle cx="481.4" cy="385.3" r="3.7" fill="#111111" stroke="#111" stroke-width="1.1"/>
<circle cx="481.4" cy="384.1" r="3.7" fill="#9a9a9a" stroke="#111" stroke-width="1.1"/>
<circle cx="481.4" cy="382.5" r="3.7" fill="#29a8e0" stroke="#111" stroke-width="1.1"/>
<circle cx="481.4" cy="381.3" r="3.7" fill="#0d2350" stroke="#111" stroke-width="1.1"/>
<circle cx="498.5" cy="383.0" r="3.7" fill="#7b2fa8" stroke="#111" stroke-width="1.1"/>
<circle cx="498.5" cy="383.6" r="3.7" fill="#f07f1e" stroke="#111" stroke-width="1.1"/>
<circle cx="498.5" cy="383.8" r="3.7" fill="#e8161e" stroke="#111" stroke-width="1.1"/>
<circle cx="498.5" cy="384.2" r="3.7" fill="#f0b41e" stroke="#111" stroke-width="1.1"/>
<circle cx="498.5" cy="382.6" r="3.7" fill="#8cc63f" stroke="#111" stroke-width="1.1"/>
<circle cx="498.5" cy="383.4" r="3.7" fill="#2e5e2a" stroke="#111" stroke-width="1.1"/>
<circle cx="498.5" cy="382.4" r="3.7" fill="#1f6fc0" stroke="#111" stroke-width="1.1"/>
<circle cx="498.5" cy="383.6" r="3.7" fill="#f07f2a" stroke="#111" stroke-width="1.1"/>
<circle cx="498.5" cy="385.8" r="3.7" fill="#111111" stroke="#111" stroke-width="1.1"/>
<circle cx="498.5" cy="384.6" r="3.7" fill="#9a9a9a" stroke="#111" stroke-width="1.1"/>
<circle cx="498.5" cy="383.0" r="3.7" fill="#29a8e0" stroke="#111" stroke-width="1.1"/>
<circle cx="498.5" cy="381.8" r="3.7" fill="#0d2350" stroke="#111" stroke-width="1.1"/>
<circle cx="515.6" cy="378.9" r="3.7" fill="#7b2fa8" stroke="#111" stroke-width="1.1"/>
<circle cx="515.6" cy="379.5" r="3.7" fill="#f07f1e" stroke="#111" stroke-width="1.1"/>
<circle cx="515.6" cy="379.7" r="3.7" fill="#e8161e" stroke="#111" stroke-width="1.1"/>
<circle cx="515.6" cy="380.1" r="3.7" fill="#f0b41e" stroke="#111" stroke-width="1.1"/>
<circle cx="515.6" cy="378.5" r="3.7" fill="#8cc63f" stroke="#111" stroke-width="1.1"/>
<circle cx="515.6" cy="379.3" r="3.7" fill="#2e5e2a" stroke="#111" stroke-width="1.1"/>
<circle cx="515.6" cy="378.3" r="3.7" fill="#1f6fc0" stroke="#111" stroke-width="1.1"/>
<circle cx="515.6" cy="379.5" r="3.7" fill="#f07f2a" stroke="#111" stroke-width="1.1"/>
<circle cx="515.6" cy="381.7" r="3.7" fill="#111111" stroke="#111" stroke-width="1.1"/>
<circle cx="515.6" cy="380.5" r="3.7" fill="#9a9a9a" stroke="#111" stroke-width="1.1"/>
<circle cx="515.6" cy="378.9" r="3.7" fill="#29a8e0" stroke="#111" stroke-width="1.1"/>
<circle cx="515.6" cy="377.7" r="3.7" fill="#0d2350" stroke="#111" stroke-width="1.1"/>
<circle cx="532.7" cy="380.2" r="3.7" fill="#7b2fa8" stroke="#111" stroke-width="1.1"/>
<circle cx="532.7" cy="380.8" r="3.7" fill="#f07f1e" stroke="#111" stroke-width="1.1"/>
<circle cx="532.7" cy="381.0" r="3.7" fill="#e8161e" stroke="#111" stroke-width="1.1"/>
<circle cx="532.7" cy="381.4" r="3.7" fill="#f0b41e" stroke="#111" stroke-width="1.1"/>
<circle cx="532.7" cy="379.8" r="3.7" fill="#8cc63f" stroke="#111" stroke-width="1.1"/>
<circle cx="532.7" cy="380.6" r="3.7" fill="#2e5e2a" stroke="#111" stroke-width="1.1"/>
<circle cx="532.7" cy="379.6" r="3.7" fill="#1f6fc0" stroke="#111" stroke-width="1.1"/>
<circle cx="532.7" cy="380.8" r="3.7" fill="#f07f2a" stroke="#111" stroke-width="1.1"/>
<circle cx="532.7" cy="383.0" r="3.7" fill="#111111" stroke="#111" stroke-width="1.1"/>
<circle cx="532.7" cy="381.8" r="3.7" fill="#9a9a9a" stroke="#111" stroke-width="1.1"/>
<circle cx="532.7" cy="380.2" r="3.7" fill="#29a8e0" stroke="#111" stroke-width="1.1"/>
<circle cx="532.7" cy="379.0" r="3.7" fill="#0d2350" stroke="#111" stroke-width="1.1"/>
<text x="309.5" y="434.3" font-size="15" style="stroke:none">F</text>
<text x="447.5" y="422.4" font-size="12.5" font-weight="bold" style="stroke-width:0.1px">Profile 2</text>
<line x1="211" y1="11.2" x2="224.5" y2="11.2" stroke="#e0b060" stroke-width="1.2"/>
<path d="M212.7,7.2 L222.7,15.2 M222.7,7.2 L212.7,15.2" stroke="#d9a441" stroke-width="1.2" fill="none"/>
<text x="227.3" y="14.899999999999999" font-size="11">Dismantled</text>
<line x1="211" y1="21.8" x2="224.5" y2="21.8" stroke="#f0503c" stroke-width="1.2"/>
<circle cx="217.7" cy="21.8" r="4.3" fill="#e8161e" stroke="#111" stroke-width="1"/>
<text x="227.3" y="25.5" font-size="11">Lateritic duricrust</text>
<line x1="317.5" y1="10.5" x2="330" y2="10.5" stroke="#5a9ad8" stroke-width="1.2"/>
<path d="M323.6,6.0 L328.1,14.6 L319.1,14.6 Z" fill="#1f5fad" stroke="#111" stroke-width="1.1"/>
<text x="332.5" y="14.2" font-size="11">Mottled yellow zones</text>
<line x1="317.5" y1="20.8" x2="330" y2="20.8" stroke="#5ab860" stroke-width="1.2"/>
<path d="M323.6,16.2 L328.1,24.9 L319.1,24.9 Z" fill="#1ea040" stroke="#111" stroke-width="1.1"/>
<text x="332.5" y="24.5" font-size="11">Mottled red zones</text>
<line x1="317.5" y1="30.7" x2="330" y2="30.7" stroke="#5ab4e6" stroke-width="1.2"/>
<path d="M323.6,26.1 L328.1,34.8 L319.1,34.8 Z" fill="#27a9e1" stroke="#111" stroke-width="1.1"/>
<text x="332.5" y="34.4" font-size="11">Mottled yellow zones</text>
<line x1="317.5" y1="41.2" x2="330" y2="41.2" stroke="#c0e080" stroke-width="1.2"/>
<path d="M323.6,36.7 L328.1,45.2 L319.1,45.2 Z" fill="#a8d070" stroke="#111" stroke-width="1.1"/>
<text x="332.5" y="44.900000000000006" font-size="11">Mottled red zones</text>
<line x1="430.5" y1="11.5" x2="443.5" y2="11.5" stroke="#333333" stroke-width="1.2"/>
<rect x="433.2" y="7.9" width="7.2" height="7.2" fill="#f07f1e" stroke="#111" stroke-width="1.1"/>
<text x="444" y="15.2" font-size="10.8">Saprolite yellow zones</text>
<line x1="430.5" y1="23.7" x2="443.5" y2="23.7" stroke="#f0e060" stroke-width="1.2"/>
<rect x="433.2" y="20.1" width="7.2" height="7.2" fill="#f5e50a" stroke="#111" stroke-width="1.1"/>
<text x="444.5" y="27.4" font-size="10.8">Saprolite red zones</text>
<line x1="430.5" y1="37.6" x2="443.5" y2="37.6" stroke="#333333" stroke-width="1.2"/>
<rect x="433.2" y="34.0" width="7.2" height="7.2" fill="#9a9a9a" stroke="#111" stroke-width="1.1"/>
<text x="444" y="41.300000000000004" font-size="10.8">Phyllite</text>
<line x1="483.5" y1="37.6" x2="496" y2="37.6" stroke="#333333" stroke-width="1.2"/>
<rect x="486.1" y="34.0" width="7.2" height="7.2" fill="#111111" stroke="#111" stroke-width="1.1"/>
<text x="496.5" y="41.300000000000004" font-size="10.8">Phyllite</text>
<line x1="374.5" y1="178.5" x2="388.3" y2="178.5" stroke="#3a7bd5" stroke-width="1.2"/>
<path d="M377.8,175.7 L384.8,181.3 M384.8,175.7 L377.8,181.3" stroke="#3a7bd5" stroke-width="1.1" fill="none"/>
<text x="390.5" y="182.2" font-size="10.8">Dismantled</text>
<line x1="374.5" y1="187.8" x2="388.3" y2="187.8" stroke="#f08a4b" stroke-width="1.2"/>
<path d="M377.8,185.0 L384.8,190.6 M384.8,185.0 L377.8,190.6" stroke="#f08a4b" stroke-width="1.1" fill="none"/>
<text x="390.5" y="191.5" font-size="10.8">Dismantled</text>
<line x1="374.5" y1="197.8" x2="388.3" y2="197.8" stroke="#111111" stroke-width="1.6"/>
<circle cx="381.3" cy="197.8" r="3.8" fill="#e8161e" stroke="#111" stroke-width="1"/>
<text x="390.5" y="201.5" font-size="10.8">Lateritic duricrust</text>
<line x1="374.5" y1="208.2" x2="388.3" y2="208.2" stroke="#f5d000" stroke-width="1.2"/>
<path d="M381.3,204.2 L385.3,208.2 L381.3,212.2 L377.3,208.2 Z" fill="#f5d000" stroke="#111" stroke-width="1"/>
<text x="390.5" y="211.89999999999998" font-size="10.8">Lateritic duricrust</text>
<line x1="476.5" y1="176.6" x2="489.6" y2="176.6" stroke="#6ac04c" stroke-width="1.2"/>
<path d="M483.1,172.5 L487.1,180.2 L479.1,180.2 Z" fill="#6ac04c" stroke="#111" stroke-width="1.1"/>
<text x="491" y="180.29999999999998" font-size="10.8">Mottled</text>
<line x1="476.5" y1="187.3" x2="489.6" y2="187.3" stroke="#333333" stroke-width="1.2"/>
<rect x="479.9" y="184.1" width="6.5" height="6.5" fill="#808080" stroke="#111" stroke-width="1.1"/>
<text x="491.5" y="191.0" font-size="10.8">Saprolite</text>
<line x1="476.5" y1="198.5" x2="489.6" y2="198.5" stroke="#111111" stroke-width="1.2"/>
<rect x="479.9" y="195.2" width="6.5" height="6.5" fill="#ffffff" stroke="#111" stroke-width="1.1"/>
<text x="492.3" y="202.2" font-size="10.8">Sandstone</text>
<text x="479" y="328.6" font-size="10.8">Oxisol</text>
<circle cx="452.3" cy="338.0" r="3.5" fill="#7b2fa8" stroke="#111" stroke-width="1"/>
<text x="458.1" y="341.6" font-size="10.8">1</text>
<circle cx="472.5" cy="338.0" r="3.5" fill="#f07f1e" stroke="#111" stroke-width="1"/>
<text x="478.3" y="341.6" font-size="10.8">2</text>
<circle cx="496.0" cy="338.0" r="3.5" fill="#e8161e" stroke="#111" stroke-width="1"/>
<text x="501.8" y="341.6" font-size="10.8">3</text>
<circle cx="520.5" cy="338.0" r="3.5" fill="#f0b41e" stroke="#111" stroke-width="1"/>
<text x="526.3" y="341.6" font-size="10.8">4</text>
<circle cx="452.3" cy="348.8" r="3.5" fill="#8cc63f" stroke="#111" stroke-width="1"/>
<text x="458.1" y="352.40000000000003" font-size="10.8">5</text>
<circle cx="472.5" cy="348.8" r="3.5" fill="#2e5e2a" stroke="#111" stroke-width="1"/>
<text x="478.3" y="352.40000000000003" font-size="10.8">6</text>
<circle cx="496.0" cy="348.8" r="3.5" fill="#1f6fc0" stroke="#111" stroke-width="1"/>
<text x="501.8" y="352.40000000000003" font-size="10.8">7</text>
<circle cx="520.5" cy="348.8" r="3.5" fill="#f07f2a" stroke="#111" stroke-width="1"/>
<text x="526.3" y="352.40000000000003" font-size="10.8">8</text>
<circle cx="452.3" cy="360.9" r="3.5" fill="#111111" stroke="#111" stroke-width="1"/>
<text x="458.1" y="364.5" font-size="10.8">9</text>
<circle cx="472.5" cy="360.9" r="3.5" fill="#9a9a9a" stroke="#111" stroke-width="1"/>
<text x="478.3" y="364.5" font-size="10.8">10</text>
<circle cx="496.0" cy="360.9" r="3.5" fill="#29a8e0" stroke="#111" stroke-width="1"/>
<text x="501.8" y="364.5" font-size="10.8">11</text>
<circle cx="520.5" cy="360.9" r="3.5" fill="#0d2350" stroke="#111" stroke-width="1"/>
<text x="526.3" y="364.5" font-size="10.8">12</text>
</svg></body></html>
